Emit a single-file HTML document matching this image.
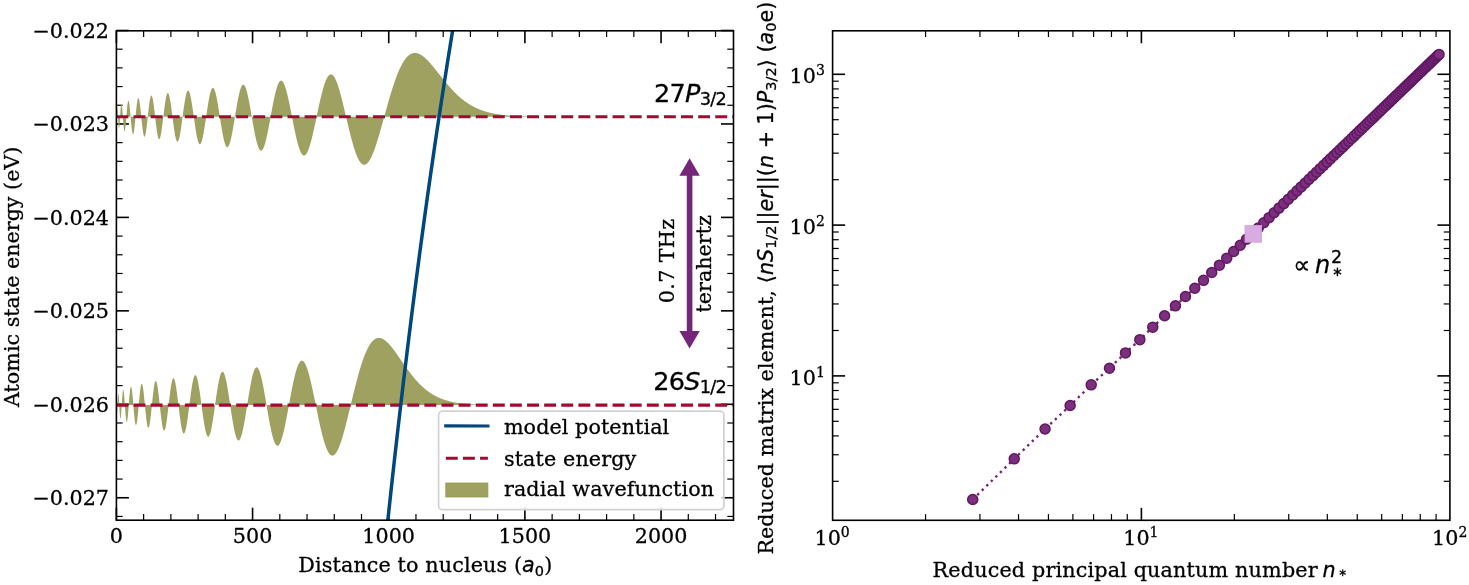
<!DOCTYPE html>
<html lang="en"><head><meta charset="utf-8"><title>Rydberg states</title>
<style>html,body{margin:0;padding:0;background:#fff;overflow:hidden}svg{display:block;filter:blur(0.45px)}text{white-space:pre;stroke:#000;stroke-width:0.3px;stroke-linejoin:round}</style></head>
<body>
<svg width="1469" height="585" viewBox="0 0 1469 585">
<rect width="1469" height="585" fill="#fff"/>
<defs><clipPath id="cl"><rect x="116.4" y="30.8" width="617.1" height="489.40000000000003"/></clipPath><clipPath id="cr"><rect x="832.6" y="30.8" width="617.3000000000001" height="489.49999999999994"/></clipPath></defs>
<g>
<line x1="116.40" y1="520.20" x2="116.40" y2="507.70" stroke="#000" stroke-width="1.6"/>
<line x1="116.40" y1="30.80" x2="116.40" y2="43.30" stroke="#000" stroke-width="1.6"/>
<line x1="143.63" y1="520.20" x2="143.63" y2="514.00" stroke="#000" stroke-width="1.2"/>
<line x1="143.63" y1="30.80" x2="143.63" y2="37.00" stroke="#000" stroke-width="1.2"/>
<line x1="170.87" y1="520.20" x2="170.87" y2="514.00" stroke="#000" stroke-width="1.2"/>
<line x1="170.87" y1="30.80" x2="170.87" y2="37.00" stroke="#000" stroke-width="1.2"/>
<line x1="198.10" y1="520.20" x2="198.10" y2="514.00" stroke="#000" stroke-width="1.2"/>
<line x1="198.10" y1="30.80" x2="198.10" y2="37.00" stroke="#000" stroke-width="1.2"/>
<line x1="225.33" y1="520.20" x2="225.33" y2="514.00" stroke="#000" stroke-width="1.2"/>
<line x1="225.33" y1="30.80" x2="225.33" y2="37.00" stroke="#000" stroke-width="1.2"/>
<line x1="252.57" y1="520.20" x2="252.57" y2="507.70" stroke="#000" stroke-width="1.6"/>
<line x1="252.57" y1="30.80" x2="252.57" y2="43.30" stroke="#000" stroke-width="1.6"/>
<line x1="279.80" y1="520.20" x2="279.80" y2="514.00" stroke="#000" stroke-width="1.2"/>
<line x1="279.80" y1="30.80" x2="279.80" y2="37.00" stroke="#000" stroke-width="1.2"/>
<line x1="307.03" y1="520.20" x2="307.03" y2="514.00" stroke="#000" stroke-width="1.2"/>
<line x1="307.03" y1="30.80" x2="307.03" y2="37.00" stroke="#000" stroke-width="1.2"/>
<line x1="334.26" y1="520.20" x2="334.26" y2="514.00" stroke="#000" stroke-width="1.2"/>
<line x1="334.26" y1="30.80" x2="334.26" y2="37.00" stroke="#000" stroke-width="1.2"/>
<line x1="361.50" y1="520.20" x2="361.50" y2="514.00" stroke="#000" stroke-width="1.2"/>
<line x1="361.50" y1="30.80" x2="361.50" y2="37.00" stroke="#000" stroke-width="1.2"/>
<line x1="388.73" y1="520.20" x2="388.73" y2="507.70" stroke="#000" stroke-width="1.6"/>
<line x1="388.73" y1="30.80" x2="388.73" y2="43.30" stroke="#000" stroke-width="1.6"/>
<line x1="415.96" y1="520.20" x2="415.96" y2="514.00" stroke="#000" stroke-width="1.2"/>
<line x1="415.96" y1="30.80" x2="415.96" y2="37.00" stroke="#000" stroke-width="1.2"/>
<line x1="443.20" y1="520.20" x2="443.20" y2="514.00" stroke="#000" stroke-width="1.2"/>
<line x1="443.20" y1="30.80" x2="443.20" y2="37.00" stroke="#000" stroke-width="1.2"/>
<line x1="470.43" y1="520.20" x2="470.43" y2="514.00" stroke="#000" stroke-width="1.2"/>
<line x1="470.43" y1="30.80" x2="470.43" y2="37.00" stroke="#000" stroke-width="1.2"/>
<line x1="497.66" y1="520.20" x2="497.66" y2="514.00" stroke="#000" stroke-width="1.2"/>
<line x1="497.66" y1="30.80" x2="497.66" y2="37.00" stroke="#000" stroke-width="1.2"/>
<line x1="524.89" y1="520.20" x2="524.89" y2="507.70" stroke="#000" stroke-width="1.6"/>
<line x1="524.89" y1="30.80" x2="524.89" y2="43.30" stroke="#000" stroke-width="1.6"/>
<line x1="552.13" y1="520.20" x2="552.13" y2="514.00" stroke="#000" stroke-width="1.2"/>
<line x1="552.13" y1="30.80" x2="552.13" y2="37.00" stroke="#000" stroke-width="1.2"/>
<line x1="579.36" y1="520.20" x2="579.36" y2="514.00" stroke="#000" stroke-width="1.2"/>
<line x1="579.36" y1="30.80" x2="579.36" y2="37.00" stroke="#000" stroke-width="1.2"/>
<line x1="606.59" y1="520.20" x2="606.59" y2="514.00" stroke="#000" stroke-width="1.2"/>
<line x1="606.59" y1="30.80" x2="606.59" y2="37.00" stroke="#000" stroke-width="1.2"/>
<line x1="633.83" y1="520.20" x2="633.83" y2="514.00" stroke="#000" stroke-width="1.2"/>
<line x1="633.83" y1="30.80" x2="633.83" y2="37.00" stroke="#000" stroke-width="1.2"/>
<line x1="661.06" y1="520.20" x2="661.06" y2="507.70" stroke="#000" stroke-width="1.6"/>
<line x1="661.06" y1="30.80" x2="661.06" y2="43.30" stroke="#000" stroke-width="1.6"/>
<line x1="688.29" y1="520.20" x2="688.29" y2="514.00" stroke="#000" stroke-width="1.2"/>
<line x1="688.29" y1="30.80" x2="688.29" y2="37.00" stroke="#000" stroke-width="1.2"/>
<line x1="715.53" y1="520.20" x2="715.53" y2="514.00" stroke="#000" stroke-width="1.2"/>
<line x1="715.53" y1="30.80" x2="715.53" y2="37.00" stroke="#000" stroke-width="1.2"/>
<line x1="116.40" y1="30.50" x2="128.90" y2="30.50" stroke="#000" stroke-width="1.6"/>
<line x1="733.50" y1="30.50" x2="721.00" y2="30.50" stroke="#000" stroke-width="1.6"/>
<line x1="116.40" y1="49.19" x2="122.60" y2="49.19" stroke="#000" stroke-width="1.2"/>
<line x1="733.50" y1="49.19" x2="727.30" y2="49.19" stroke="#000" stroke-width="1.2"/>
<line x1="116.40" y1="67.88" x2="122.60" y2="67.88" stroke="#000" stroke-width="1.2"/>
<line x1="733.50" y1="67.88" x2="727.30" y2="67.88" stroke="#000" stroke-width="1.2"/>
<line x1="116.40" y1="86.57" x2="122.60" y2="86.57" stroke="#000" stroke-width="1.2"/>
<line x1="733.50" y1="86.57" x2="727.30" y2="86.57" stroke="#000" stroke-width="1.2"/>
<line x1="116.40" y1="105.26" x2="122.60" y2="105.26" stroke="#000" stroke-width="1.2"/>
<line x1="733.50" y1="105.26" x2="727.30" y2="105.26" stroke="#000" stroke-width="1.2"/>
<line x1="116.40" y1="123.95" x2="128.90" y2="123.95" stroke="#000" stroke-width="1.6"/>
<line x1="733.50" y1="123.95" x2="721.00" y2="123.95" stroke="#000" stroke-width="1.6"/>
<line x1="116.40" y1="142.64" x2="122.60" y2="142.64" stroke="#000" stroke-width="1.2"/>
<line x1="733.50" y1="142.64" x2="727.30" y2="142.64" stroke="#000" stroke-width="1.2"/>
<line x1="116.40" y1="161.33" x2="122.60" y2="161.33" stroke="#000" stroke-width="1.2"/>
<line x1="733.50" y1="161.33" x2="727.30" y2="161.33" stroke="#000" stroke-width="1.2"/>
<line x1="116.40" y1="180.02" x2="122.60" y2="180.02" stroke="#000" stroke-width="1.2"/>
<line x1="733.50" y1="180.02" x2="727.30" y2="180.02" stroke="#000" stroke-width="1.2"/>
<line x1="116.40" y1="198.71" x2="122.60" y2="198.71" stroke="#000" stroke-width="1.2"/>
<line x1="733.50" y1="198.71" x2="727.30" y2="198.71" stroke="#000" stroke-width="1.2"/>
<line x1="116.40" y1="217.40" x2="128.90" y2="217.40" stroke="#000" stroke-width="1.6"/>
<line x1="733.50" y1="217.40" x2="721.00" y2="217.40" stroke="#000" stroke-width="1.6"/>
<line x1="116.40" y1="236.09" x2="122.60" y2="236.09" stroke="#000" stroke-width="1.2"/>
<line x1="733.50" y1="236.09" x2="727.30" y2="236.09" stroke="#000" stroke-width="1.2"/>
<line x1="116.40" y1="254.78" x2="122.60" y2="254.78" stroke="#000" stroke-width="1.2"/>
<line x1="733.50" y1="254.78" x2="727.30" y2="254.78" stroke="#000" stroke-width="1.2"/>
<line x1="116.40" y1="273.47" x2="122.60" y2="273.47" stroke="#000" stroke-width="1.2"/>
<line x1="733.50" y1="273.47" x2="727.30" y2="273.47" stroke="#000" stroke-width="1.2"/>
<line x1="116.40" y1="292.16" x2="122.60" y2="292.16" stroke="#000" stroke-width="1.2"/>
<line x1="733.50" y1="292.16" x2="727.30" y2="292.16" stroke="#000" stroke-width="1.2"/>
<line x1="116.40" y1="310.85" x2="128.90" y2="310.85" stroke="#000" stroke-width="1.6"/>
<line x1="733.50" y1="310.85" x2="721.00" y2="310.85" stroke="#000" stroke-width="1.6"/>
<line x1="116.40" y1="329.54" x2="122.60" y2="329.54" stroke="#000" stroke-width="1.2"/>
<line x1="733.50" y1="329.54" x2="727.30" y2="329.54" stroke="#000" stroke-width="1.2"/>
<line x1="116.40" y1="348.23" x2="122.60" y2="348.23" stroke="#000" stroke-width="1.2"/>
<line x1="733.50" y1="348.23" x2="727.30" y2="348.23" stroke="#000" stroke-width="1.2"/>
<line x1="116.40" y1="366.92" x2="122.60" y2="366.92" stroke="#000" stroke-width="1.2"/>
<line x1="733.50" y1="366.92" x2="727.30" y2="366.92" stroke="#000" stroke-width="1.2"/>
<line x1="116.40" y1="385.61" x2="122.60" y2="385.61" stroke="#000" stroke-width="1.2"/>
<line x1="733.50" y1="385.61" x2="727.30" y2="385.61" stroke="#000" stroke-width="1.2"/>
<line x1="116.40" y1="404.30" x2="128.90" y2="404.30" stroke="#000" stroke-width="1.6"/>
<line x1="733.50" y1="404.30" x2="721.00" y2="404.30" stroke="#000" stroke-width="1.6"/>
<line x1="116.40" y1="422.99" x2="122.60" y2="422.99" stroke="#000" stroke-width="1.2"/>
<line x1="733.50" y1="422.99" x2="727.30" y2="422.99" stroke="#000" stroke-width="1.2"/>
<line x1="116.40" y1="441.68" x2="122.60" y2="441.68" stroke="#000" stroke-width="1.2"/>
<line x1="733.50" y1="441.68" x2="727.30" y2="441.68" stroke="#000" stroke-width="1.2"/>
<line x1="116.40" y1="460.37" x2="122.60" y2="460.37" stroke="#000" stroke-width="1.2"/>
<line x1="733.50" y1="460.37" x2="727.30" y2="460.37" stroke="#000" stroke-width="1.2"/>
<line x1="116.40" y1="479.06" x2="122.60" y2="479.06" stroke="#000" stroke-width="1.2"/>
<line x1="733.50" y1="479.06" x2="727.30" y2="479.06" stroke="#000" stroke-width="1.2"/>
<line x1="116.40" y1="497.75" x2="128.90" y2="497.75" stroke="#000" stroke-width="1.6"/>
<line x1="733.50" y1="497.75" x2="721.00" y2="497.75" stroke="#000" stroke-width="1.6"/>
<line x1="116.40" y1="516.44" x2="122.60" y2="516.44" stroke="#000" stroke-width="1.2"/>
<line x1="733.50" y1="516.44" x2="727.30" y2="516.44" stroke="#000" stroke-width="1.2"/>
</g>
<g clip-path="url(#cl)">
<path d="M116.54,116.75L116.54,116.38L116.56,116.12L116.57,115.86L116.58,115.60L116.59,115.34L116.60,115.08L116.61,114.82L116.63,114.55L116.64,114.29L116.65,114.02L116.66,113.76L116.67,113.50L116.69,113.23L116.70,112.97L116.71,112.71L116.73,112.45L116.74,112.20L116.75,111.94L116.76,111.69L116.78,111.44L116.79,111.20L116.81,110.96L116.82,110.73L116.83,110.50L116.85,110.27L116.86,110.05L116.87,109.84L116.89,109.63L116.90,109.43L116.92,109.24L116.93,109.05L116.95,108.87L116.96,108.70L116.98,108.54L116.99,108.39L117.01,108.24L117.02,108.11L117.04,107.98L117.05,107.87L117.07,107.76L117.08,107.67L117.10,107.59L117.12,107.52L117.13,107.45L117.15,107.41L117.17,107.37L117.18,107.34L117.20,107.33L117.22,107.33L117.23,107.34L117.25,107.36L117.27,107.40L117.28,107.45L117.30,107.51L117.32,107.58L117.34,107.67L117.35,107.77L117.37,107.88L117.39,108.00L117.41,108.14L117.42,108.29L117.44,108.45L117.46,108.63L117.48,108.82L117.50,109.02L117.52,109.23L117.53,109.45L117.55,109.69L117.57,109.93L117.59,110.19L117.61,110.46L117.63,110.74L117.65,111.02L117.67,111.32L117.69,111.63L117.71,111.95L117.73,112.27L117.75,112.60L117.77,112.95L117.79,113.29L117.81,113.65L117.83,114.01L117.85,114.38L117.87,114.75L117.89,115.13L117.91,115.51L117.93,115.90L117.96,116.29L117.98,116.68L118.00,117.08L118.02,117.47L118.04,117.87L118.06,118.27L118.08,118.67L118.11,119.07L118.13,119.46L118.15,119.86L118.17,120.25L118.20,120.64L118.22,121.02L118.24,121.40L118.26,121.78L118.29,122.15L118.31,122.51L118.33,122.87L118.36,123.22L118.38,123.56L118.40,123.89L118.43,124.22L118.45,124.53L118.47,124.84L118.50,125.13L118.52,125.41L118.55,125.69L118.57,125.94L118.59,126.19L118.62,126.42L118.64,126.64L118.67,126.85L118.69,127.04L118.72,127.22L118.74,127.38L118.77,127.53L118.79,127.66L118.82,127.78L118.85,127.88L118.87,127.96L118.90,128.02L118.92,128.07L118.95,128.11L118.97,128.12L119.00,128.12L119.03,128.10L119.05,128.06L119.08,128.01L119.11,127.93L119.13,127.85L119.16,127.74L119.19,127.61L119.21,127.47L119.24,127.31L119.27,127.14L119.30,126.95L119.32,126.74L119.35,126.51L119.38,126.27L119.41,126.02L119.44,125.75L119.46,125.46L119.49,125.16L119.52,124.84L119.55,124.51L119.58,124.17L119.61,123.82L119.64,123.45L119.67,123.07L119.69,122.68L119.72,122.27L119.75,121.86L119.78,121.44L119.81,121.01L119.84,120.57L119.87,120.13L119.90,119.67L119.93,119.21L119.96,118.75L119.99,118.28L120.02,117.80L120.05,117.33L120.08,116.85L120.11,116.36L120.14,115.88L120.18,115.40L120.21,114.91L120.24,114.43L120.27,113.95L120.30,113.47L120.33,113.00L120.36,112.52L120.40,112.06L120.43,111.60L120.46,111.15L120.49,110.70L120.52,110.26L120.56,109.83L120.59,109.41L120.62,109.00L120.65,108.60L120.69,108.21L120.72,107.83L120.75,107.47L120.79,107.12L120.82,106.78L120.85,106.46L120.89,106.15L120.92,105.86L120.95,105.59L120.99,105.33L121.02,105.09L121.06,104.86L121.09,104.66L121.12,104.47L121.16,104.30L121.19,104.15L121.23,104.02L121.26,103.91L121.30,103.82L121.33,103.75L121.37,103.70L121.40,103.67L121.44,103.66L121.47,103.67L121.51,103.71L121.54,103.76L121.58,103.83L121.62,103.93L121.65,104.04L121.69,104.18L121.72,104.33L121.76,104.51L121.80,104.71L121.83,104.92L121.87,105.16L121.91,105.41L121.94,105.68L121.98,105.98L122.02,106.28L122.06,106.61L122.09,106.96L122.13,107.32L122.17,107.69L122.21,108.09L122.24,108.49L122.28,108.91L122.32,109.35L122.36,109.80L122.40,110.26L122.44,110.73L122.47,111.21L122.51,111.71L122.55,112.21L122.59,112.72L122.63,113.24L122.67,113.77L122.71,114.30L122.75,114.84L122.79,115.38L122.83,115.93L122.87,116.48L122.91,117.03L122.95,117.59L122.99,118.14L123.03,118.69L123.07,119.24L123.11,119.79L123.15,120.34L123.19,120.88L123.23,121.42L123.27,121.95L123.31,122.47L123.35,122.99L123.39,123.49L123.43,123.99L123.48,124.48L123.52,124.96L123.56,125.42L123.60,125.87L123.64,126.31L123.68,126.74L123.73,127.15L123.77,127.55L123.81,127.92L123.85,128.29L123.90,128.63L123.94,128.96L123.98,129.27L124.02,129.56L124.07,129.83L124.11,130.08L124.15,130.30L124.20,130.51L124.24,130.70L124.28,130.86L124.33,131.01L124.37,131.13L124.42,131.22L124.46,131.30L124.50,131.35L124.55,131.38L124.59,131.38L124.64,131.37L124.68,131.32L124.73,131.26L124.77,131.17L124.82,131.06L124.86,130.93L124.91,130.77L124.95,130.59L125.00,130.39L125.04,130.16L125.09,129.91L125.14,129.65L125.18,129.36L125.23,129.04L125.27,128.71L125.32,128.36L125.37,127.99L125.41,127.60L125.46,127.20L125.51,126.77L125.55,126.33L125.60,125.87L125.65,125.40L125.69,124.91L125.74,124.40L125.79,123.89L125.84,123.36L125.88,122.82L125.93,122.26L125.98,121.70L126.03,121.13L126.08,120.55L126.12,119.96L126.17,119.37L126.22,118.77L126.27,118.16L126.32,117.56L126.37,116.94L126.42,116.33L126.47,115.72L126.51,115.11L126.56,114.49L126.61,113.88L126.66,113.28L126.71,112.68L126.76,112.08L126.81,111.49L126.86,110.90L126.91,110.33L126.96,109.76L127.01,109.20L127.06,108.66L127.11,108.12L127.16,107.60L127.22,107.09L127.27,106.59L127.32,106.11L127.37,105.65L127.42,105.20L127.47,104.77L127.52,104.36L127.57,103.97L127.63,103.60L127.68,103.24L127.73,102.91L127.78,102.60L127.83,102.31L127.89,102.04L127.94,101.80L127.99,101.58L128.04,101.38L128.10,101.21L128.15,101.06L128.20,100.93L128.26,100.83L128.31,100.76L128.36,100.71L128.42,100.69L128.47,100.69L128.52,100.72L128.58,100.77L128.63,100.85L128.68,100.95L128.74,101.08L128.79,101.24L128.85,101.42L128.90,101.62L128.96,101.85L129.01,102.10L129.07,102.38L129.12,102.68L129.18,103.01L129.23,103.35L129.29,103.72L129.34,104.11L129.40,104.52L129.45,104.95L129.51,105.40L129.56,105.87L129.62,106.36L129.68,106.86L129.73,107.38L129.79,107.92L129.84,108.48L129.90,109.04L129.96,109.62L130.01,110.22L130.07,110.82L130.13,111.44L130.19,112.06L130.24,112.69L130.30,113.34L130.36,113.98L130.42,114.64L130.47,115.30L130.53,115.96L130.59,116.62L130.65,117.29L130.70,117.96L130.76,118.62L130.82,119.29L130.88,119.95L130.94,120.61L131.00,121.26L131.06,121.91L131.12,122.55L131.17,123.18L131.23,123.80L131.29,124.41L131.35,125.02L131.41,125.61L131.47,126.19L131.53,126.75L131.59,127.30L131.65,127.83L131.71,128.35L131.77,128.85L131.83,129.33L131.89,129.79L131.95,130.24L132.01,130.66L132.07,131.06L132.13,131.44L132.20,131.80L132.26,132.13L132.32,132.44L132.38,132.72L132.44,132.99L132.50,133.22L132.56,133.43L132.63,133.62L132.69,133.77L132.75,133.91L132.81,134.01L132.87,134.09L132.94,134.14L133.00,134.16L133.06,134.16L133.13,134.13L133.19,134.07L133.25,133.98L133.31,133.87L133.38,133.72L133.44,133.56L133.50,133.36L133.57,133.14L133.63,132.89L133.70,132.62L133.76,132.32L133.82,132.00L133.89,131.65L133.95,131.27L134.02,130.88L134.08,130.46L134.15,130.02L134.21,129.55L134.27,129.07L134.34,128.57L134.40,128.04L134.47,127.50L134.54,126.94L134.60,126.36L134.67,125.77L134.73,125.16L134.80,124.54L134.86,123.90L134.93,123.25L135.00,122.59L135.06,121.92L135.13,121.24L135.19,120.55L135.26,119.86L135.33,119.16L135.39,118.45L135.46,117.74L135.53,117.03L135.60,116.31L135.66,115.60L135.73,114.88L135.80,114.17L135.87,113.46L135.93,112.76L136.00,112.06L136.07,111.36L136.14,110.67L136.21,109.99L136.27,109.32L136.34,108.67L136.41,108.02L136.48,107.38L136.55,106.76L136.62,106.15L136.69,105.56L136.75,104.99L136.82,104.43L136.89,103.89L136.96,103.37L137.03,102.87L137.10,102.39L137.17,101.94L137.24,101.50L137.31,101.09L137.38,100.70L137.45,100.34L137.52,100.00L137.59,99.68L137.66,99.40L137.73,99.14L137.80,98.90L137.88,98.70L137.95,98.52L138.02,98.37L138.09,98.25L138.16,98.15L138.23,98.09L138.30,98.05L138.38,98.05L138.45,98.07L138.52,98.12L138.59,98.20L138.66,98.31L138.74,98.45L138.81,98.62L138.88,98.81L138.95,99.04L139.03,99.29L139.10,99.57L139.17,99.87L139.25,100.21L139.32,100.56L139.39,100.95L139.47,101.36L139.54,101.79L139.61,102.25L139.69,102.73L139.76,103.24L139.83,103.76L139.91,104.31L139.98,104.88L140.06,105.46L140.13,106.07L140.21,106.69L140.28,107.33L140.36,107.98L140.43,108.65L140.51,109.33L140.58,110.03L140.66,110.73L140.73,111.45L140.81,112.17L140.88,112.91L140.96,113.65L141.04,114.40L141.11,115.15L141.19,115.90L141.26,116.66L141.34,117.42L141.42,118.18L141.49,118.94L141.57,119.69L141.65,120.44L141.72,121.19L141.80,121.93L141.88,122.67L141.95,123.40L142.03,124.12L142.11,124.82L142.19,125.52L142.27,126.20L142.34,126.87L142.42,127.53L142.50,128.17L142.58,128.79L142.66,129.40L142.73,129.99L142.81,130.56L142.89,131.10L142.97,131.63L143.05,132.13L143.13,132.62L143.21,133.07L143.29,133.51L143.37,133.92L143.45,134.30L143.52,134.65L143.60,134.98L143.68,135.29L143.76,135.56L143.84,135.81L143.92,136.02L144.00,136.21L144.08,136.37L144.17,136.50L144.25,136.59L144.33,136.66L144.41,136.70L144.49,136.71L144.57,136.68L144.65,136.63L144.73,136.55L144.81,136.43L144.90,136.29L144.98,136.11L145.06,135.91L145.14,135.68L145.22,135.41L145.30,135.12L145.39,134.80L145.47,134.45L145.55,134.08L145.63,133.67L145.72,133.24L145.80,132.79L145.88,132.31L145.97,131.81L146.05,131.28L146.13,130.73L146.22,130.16L146.30,129.56L146.38,128.95L146.47,128.32L146.55,127.66L146.63,126.99L146.72,126.31L146.80,125.61L146.89,124.89L146.97,124.16L147.06,123.42L147.14,122.67L147.23,121.91L147.31,121.14L147.39,120.36L147.48,119.57L147.57,118.78L147.65,117.99L147.74,117.19L147.82,116.39L147.91,115.59L147.99,114.79L148.08,113.99L148.17,113.20L148.25,112.41L148.34,111.63L148.42,110.85L148.51,110.08L148.60,109.32L148.68,108.57L148.77,107.83L148.86,107.10L148.94,106.39L149.03,105.69L149.12,105.01L149.21,104.34L149.29,103.69L149.38,103.06L149.47,102.45L149.56,101.86L149.65,101.30L149.73,100.75L149.82,100.23L149.91,99.73L150.00,99.26L150.09,98.81L150.18,98.39L150.26,98.00L150.35,97.63L150.44,97.30L150.53,96.99L150.62,96.71L150.71,96.46L150.80,96.24L150.89,96.05L150.98,95.89L151.07,95.76L151.16,95.66L151.25,95.60L151.34,95.56L151.43,95.56L151.52,95.59L151.61,95.65L151.70,95.75L151.79,95.87L151.88,96.03L151.97,96.21L152.06,96.43L152.16,96.68L152.25,96.96L152.34,97.27L152.43,97.60L152.52,97.97L152.61,98.37L152.71,98.79L152.80,99.24L152.89,99.72L152.98,100.22L153.07,100.75L153.17,101.30L153.26,101.88L153.35,102.47L153.45,103.10L153.54,103.74L153.63,104.40L153.72,105.08L153.82,105.78L153.91,106.50L154.00,107.23L154.10,107.98L154.19,108.74L154.29,109.51L154.38,110.30L154.47,111.09L154.57,111.90L154.66,112.71L154.76,113.54L154.85,114.36L154.95,115.19L155.04,116.03L155.14,116.86L155.23,117.70L155.33,118.54L155.42,119.37L155.52,120.21L155.61,121.04L155.71,121.86L155.80,122.68L155.90,123.48L156.00,124.28L156.09,125.07L156.19,125.85L156.28,126.62L156.38,127.37L156.48,128.11L156.57,128.83L156.67,129.54L156.77,130.22L156.86,130.89L156.96,131.54L157.06,132.17L157.16,132.77L157.25,133.35L157.35,133.91L157.45,134.45L157.55,134.96L157.64,135.44L157.74,135.90L157.84,136.33L157.94,136.73L158.04,137.10L158.13,137.44L158.23,137.75L158.33,138.04L158.43,138.29L158.53,138.51L158.63,138.70L158.73,138.85L158.83,138.98L158.93,139.07L159.03,139.13L159.13,139.16L159.23,139.16L159.33,139.12L159.43,139.05L159.53,138.95L159.63,138.81L159.73,138.65L159.83,138.45L159.93,138.22L160.03,137.95L160.13,137.66L160.23,137.34L160.33,136.98L160.43,136.60L160.53,136.19L160.63,135.74L160.74,135.27L160.84,134.78L160.94,134.25L161.04,133.70L161.14,133.13L161.24,132.53L161.35,131.91L161.45,131.26L161.55,130.59L161.65,129.91L161.76,129.20L161.86,128.47L161.96,127.73L162.07,126.97L162.17,126.19L162.27,125.40L162.37,124.60L162.48,123.78L162.58,122.95L162.69,122.12L162.79,121.27L162.89,120.42L163.00,119.56L163.10,118.69L163.21,117.82L163.31,116.95L163.41,116.08L163.52,115.21L163.62,114.34L163.73,113.47L163.83,112.61L163.94,111.75L164.04,110.89L164.15,110.05L164.25,109.21L164.36,108.38L164.47,107.57L164.57,106.76L164.68,105.97L164.78,105.20L164.89,104.44L165.00,103.69L165.10,102.97L165.21,102.26L165.31,101.57L165.42,100.91L165.53,100.26L165.63,99.64L165.74,99.04L165.85,98.47L165.96,97.92L166.06,97.40L166.17,96.91L166.28,96.44L166.39,96.00L166.49,95.59L166.60,95.21L166.71,94.86L166.82,94.54L166.93,94.25L167.03,94.00L167.14,93.77L167.25,93.58L167.36,93.42L167.47,93.29L167.58,93.20L167.69,93.14L167.80,93.11L167.91,93.12L168.02,93.16L168.13,93.23L168.23,93.33L168.34,93.47L168.45,93.64L168.56,93.85L168.67,94.09L168.78,94.36L168.90,94.66L169.01,94.99L169.12,95.35L169.23,95.75L169.34,96.17L169.45,96.63L169.56,97.11L169.67,97.62L169.78,98.16L169.89,98.72L170.00,99.31L170.12,99.92L170.23,100.56L170.34,101.23L170.45,101.91L170.56,102.62L170.68,103.35L170.79,104.09L170.90,104.86L171.01,105.64L171.13,106.44L171.24,107.25L171.35,108.08L171.46,108.92L171.58,109.77L171.69,110.64L171.80,111.51L171.92,112.39L172.03,113.28L172.15,114.17L172.26,115.07L172.37,115.97L172.49,116.87L172.60,117.78L172.72,118.68L172.83,119.58L172.94,120.48L173.06,121.38L173.17,122.26L173.29,123.15L173.40,124.02L173.52,124.89L173.63,125.74L173.75,126.58L173.86,127.41L173.98,128.23L174.10,129.03L174.21,129.82L174.33,130.58L174.44,131.33L174.56,132.06L174.68,132.77L174.79,133.46L174.91,134.13L175.02,134.77L175.14,135.39L175.26,135.98L175.38,136.55L175.49,137.09L175.61,137.61L175.73,138.09L175.84,138.55L175.96,138.98L176.08,139.37L176.20,139.74L176.31,140.08L176.43,140.38L176.55,140.65L176.67,140.89L176.79,141.10L176.91,141.27L177.02,141.41L177.14,141.52L177.26,141.59L177.38,141.63L177.50,141.64L177.62,141.61L177.74,141.55L177.86,141.45L177.98,141.32L178.10,141.16L178.22,140.96L178.34,140.73L178.46,140.47L178.58,140.17L178.70,139.84L178.82,139.48L178.94,139.09L179.06,138.67L179.18,138.22L179.30,137.74L179.42,137.23L179.54,136.69L179.66,136.13L179.78,135.54L179.90,134.92L180.02,134.28L180.15,133.61L180.27,132.92L180.39,132.21L180.51,131.47L180.63,130.72L180.76,129.94L180.88,129.15L181.00,128.34L181.12,127.51L181.24,126.67L181.37,125.81L181.49,124.94L181.61,124.06L181.74,123.17L181.86,122.27L181.98,121.36L182.11,120.44L182.23,119.52L182.35,118.59L182.48,117.66L182.60,116.73L182.72,115.80L182.85,114.87L182.97,113.93L183.10,113.01L183.22,112.08L183.35,111.16L183.47,110.25L183.60,109.35L183.72,108.45L183.85,107.57L183.97,106.69L184.10,105.83L184.22,104.99L184.35,104.15L184.47,103.34L184.60,102.54L184.72,101.76L184.85,100.99L184.97,100.25L185.10,99.53L185.23,98.83L185.35,98.16L185.48,97.50L185.61,96.88L185.73,96.28L185.86,95.70L185.99,95.16L186.11,94.64L186.24,94.15L186.37,93.68L186.50,93.25L186.62,92.85L186.75,92.48L186.88,92.14L187.01,91.84L187.13,91.57L187.26,91.32L187.39,91.12L187.52,90.94L187.65,90.80L187.78,90.70L187.91,90.62L188.03,90.59L188.16,90.58L188.29,90.61L188.42,90.68L188.55,90.78L188.68,90.91L188.81,91.07L188.94,91.27L189.07,91.51L189.20,91.77L189.33,92.07L189.46,92.41L189.59,92.77L189.72,93.17L189.85,93.59L189.98,94.05L190.11,94.54L190.24,95.05L190.37,95.60L190.50,96.17L190.63,96.77L190.76,97.39L190.90,98.05L191.03,98.72L191.16,99.42L191.29,100.15L191.42,100.89L191.55,101.66L191.69,102.45L191.82,103.25L191.95,104.08L192.08,104.92L192.22,105.77L192.35,106.65L192.48,107.53L192.61,108.43L192.75,109.34L192.88,110.26L193.01,111.19L193.15,112.13L193.28,113.07L193.41,114.02L193.55,114.97L193.68,115.93L193.81,116.89L193.95,117.85L194.08,118.81L194.22,119.76L194.35,120.72L194.49,121.67L194.62,122.61L194.75,123.55L194.89,124.48L195.02,125.40L195.16,126.31L195.29,127.21L195.43,128.10L195.56,128.97L195.70,129.83L195.84,130.67L195.97,131.50L196.11,132.30L196.24,133.09L196.38,133.86L196.52,134.61L196.65,135.33L196.79,136.03L196.92,136.71L197.06,137.37L197.20,138.00L197.33,138.60L197.47,139.17L197.61,139.72L197.75,140.24L197.88,140.73L198.02,141.19L198.16,141.62L198.30,142.02L198.43,142.39L198.57,142.72L198.71,143.02L198.85,143.29L198.99,143.53L199.12,143.74L199.26,143.91L199.40,144.04L199.54,144.15L199.68,144.21L199.82,144.25L199.96,144.25L200.10,144.21L200.23,144.15L200.37,144.04L200.51,143.91L200.65,143.74L200.79,143.53L200.93,143.29L201.07,143.02L201.21,142.72L201.35,142.38L201.49,142.01L201.63,141.61L201.77,141.18L201.91,140.72L202.06,140.23L202.20,139.71L202.34,139.16L202.48,138.58L202.62,137.97L202.76,137.34L202.90,136.68L203.04,136.00L203.19,135.29L203.33,134.56L203.47,133.81L203.61,133.03L203.75,132.24L203.90,131.42L204.04,130.59L204.18,129.73L204.32,128.87L204.47,127.98L204.61,127.08L204.75,126.17L204.90,125.25L205.04,124.31L205.18,123.37L205.32,122.41L205.47,121.45L205.61,120.49L205.76,119.51L205.90,118.53L206.04,117.55L206.19,116.57L206.33,115.59L206.48,114.61L206.62,113.63L206.77,112.65L206.91,111.68L207.05,110.71L207.20,109.75L207.34,108.79L207.49,107.85L207.64,106.91L207.78,105.99L207.93,105.08L208.07,104.18L208.22,103.30L208.36,102.43L208.51,101.58L208.66,100.74L208.80,99.93L208.95,99.13L209.09,98.36L209.24,97.60L209.39,96.87L209.53,96.17L209.68,95.48L209.83,94.82L209.97,94.19L210.12,93.58L210.27,93.00L210.42,92.45L210.56,91.93L210.71,91.43L210.86,90.97L211.01,90.54L211.16,90.13L211.30,89.76L211.45,89.42L211.60,89.11L211.75,88.84L211.90,88.60L212.05,88.39L212.20,88.21L212.34,88.07L212.49,87.96L212.64,87.89L212.79,87.85L212.94,87.84L213.09,87.87L213.24,87.93L213.39,88.03L213.54,88.16L213.69,88.32L213.84,88.52L213.99,88.75L214.14,89.01L214.29,89.31L214.44,89.64L214.59,90.00L214.74,90.39L214.89,90.82L215.04,91.27L215.20,91.76L215.35,92.27L215.50,92.81L215.65,93.39L215.80,93.99L215.95,94.61L216.11,95.26L216.26,95.94L216.41,96.64L216.56,97.37L216.71,98.12L216.87,98.89L217.02,99.69L217.17,100.50L217.32,101.33L217.48,102.18L217.63,103.05L217.78,103.94L217.94,104.84L218.09,105.75L218.24,106.68L218.40,107.62L218.55,108.58L218.70,109.54L218.86,110.51L219.01,111.49L219.17,112.48L219.32,113.47L219.47,114.46L219.63,115.46L219.78,116.46L219.94,117.47L220.09,118.47L220.25,119.47L220.40,120.47L220.56,121.47L220.71,122.46L220.87,123.44L221.02,124.42L221.18,125.39L221.34,126.35L221.49,127.30L221.65,128.24L221.80,129.17L221.96,130.08L222.12,130.98L222.27,131.87L222.43,132.74L222.59,133.59L222.74,134.42L222.90,135.23L223.06,136.02L223.21,136.79L223.37,137.54L223.53,138.27L223.69,138.97L223.84,139.65L224.00,140.30L224.16,140.93L224.32,141.53L224.47,142.10L224.63,142.65L224.79,143.16L224.95,143.65L225.11,144.11L225.27,144.53L225.43,144.93L225.58,145.30L225.74,145.63L225.90,145.93L226.06,146.20L226.22,146.44L226.38,146.64L226.54,146.81L226.70,146.95L226.86,147.06L227.02,147.13L227.18,147.16L227.34,147.17L227.50,147.14L227.66,147.08L227.82,146.98L227.98,146.85L228.14,146.68L228.30,146.49L228.46,146.26L228.62,146.00L228.79,145.70L228.95,145.38L229.11,145.02L229.27,144.63L229.43,144.21L229.59,143.76L229.75,143.28L229.92,142.77L230.08,142.23L230.24,141.66L230.40,141.07L230.57,140.45L230.73,139.80L230.89,139.13L231.05,138.43L231.22,137.71L231.38,136.96L231.54,136.20L231.71,135.41L231.87,134.60L232.03,133.77L232.20,132.92L232.36,132.05L232.52,131.17L232.69,130.27L232.85,129.35L233.02,128.42L233.18,127.48L233.34,126.53L233.51,125.56L233.67,124.58L233.84,123.60L234.00,122.61L234.17,121.61L234.33,120.60L234.50,119.59L234.66,118.57L234.83,117.56L234.99,116.54L235.16,115.52L235.33,114.50L235.49,113.48L235.66,112.47L235.82,111.46L235.99,110.45L236.16,109.45L236.32,108.46L236.49,107.48L236.66,106.50L236.82,105.54L236.99,104.58L237.16,103.64L237.32,102.71L237.49,101.80L237.66,100.90L237.83,100.01L237.99,99.15L238.16,98.30L238.33,97.47L238.50,96.66L238.67,95.87L238.83,95.10L239.00,94.36L239.17,93.63L239.34,92.93L239.51,92.26L239.68,91.61L239.84,90.98L240.01,90.39L240.18,89.81L240.35,89.27L240.52,88.76L240.69,88.27L240.86,87.81L241.03,87.38L241.20,86.99L241.37,86.62L241.54,86.28L241.71,85.98L241.88,85.70L242.05,85.46L242.22,85.25L242.39,85.07L242.56,84.93L242.73,84.82L242.90,84.74L243.08,84.69L243.25,84.67L243.42,84.69L243.59,84.74L243.76,84.83L243.93,84.94L244.10,85.09L244.28,85.27L244.45,85.49L244.62,85.73L244.79,86.01L244.96,86.32L245.14,86.66L245.31,87.03L245.48,87.43L245.65,87.86L245.83,88.32L246.00,88.80L246.17,89.32L246.35,89.87L246.52,90.44L246.69,91.04L246.87,91.66L247.04,92.32L247.22,92.99L247.39,93.69L247.56,94.42L247.74,95.16L247.91,95.93L248.09,96.72L248.26,97.53L248.44,98.36L248.61,99.21L248.78,100.08L248.96,100.96L249.13,101.86L249.31,102.78L249.49,103.71L249.66,104.65L249.84,105.61L250.01,106.58L250.19,107.56L250.36,108.55L250.54,109.54L250.72,110.55L250.89,111.56L251.07,112.58L251.24,113.60L251.42,114.63L251.60,115.65L251.78,116.68L251.95,117.72L252.13,118.75L252.31,119.78L252.48,120.80L252.66,121.83L252.84,122.85L253.02,123.86L253.19,124.87L253.37,125.87L253.55,126.86L253.73,127.85L253.91,128.82L254.08,129.78L254.26,130.74L254.44,131.67L254.62,132.60L254.80,133.51L254.98,134.40L255.16,135.28L255.34,136.14L255.51,136.98L255.69,137.80L255.87,138.61L256.05,139.39L256.23,140.15L256.41,140.89L256.59,141.61L256.77,142.30L256.95,142.97L257.13,143.62L257.31,144.24L257.49,144.84L257.67,145.41L257.86,145.95L258.04,146.46L258.22,146.95L258.40,147.41L258.58,147.84L258.76,148.24L258.94,148.61L259.12,148.95L259.31,149.27L259.49,149.55L259.67,149.80L259.85,150.02L260.03,150.21L260.22,150.37L260.40,150.49L260.58,150.59L260.76,150.65L260.95,150.69L261.13,150.69L261.31,150.66L261.49,150.59L261.68,150.50L261.86,150.37L262.04,150.22L262.23,150.03L262.41,149.81L262.60,149.57L262.78,149.29L262.96,148.98L263.15,148.64L263.33,148.27L263.52,147.87L263.70,147.45L263.88,146.99L264.07,146.51L264.25,146.00L264.44,145.46L264.62,144.90L264.81,144.31L264.99,143.69L265.18,143.05L265.36,142.39L265.55,141.70L265.74,140.99L265.92,140.25L266.11,139.50L266.29,138.72L266.48,137.93L266.67,137.11L266.85,136.28L267.04,135.42L267.23,134.55L267.41,133.66L267.60,132.76L267.79,131.84L267.97,130.91L268.16,129.97L268.35,129.01L268.54,128.04L268.72,127.06L268.91,126.07L269.10,125.08L269.29,124.07L269.47,123.06L269.66,122.04L269.85,121.01L270.04,119.98L270.23,118.95L270.42,117.92L270.60,116.88L270.79,115.84L270.98,114.81L271.17,113.77L271.36,112.74L271.55,111.70L271.74,110.68L271.93,109.65L272.12,108.64L272.31,107.63L272.50,106.62L272.69,105.63L272.88,104.64L273.07,103.66L273.26,102.70L273.45,101.74L273.64,100.80L273.83,99.87L274.02,98.96L274.21,98.06L274.40,97.18L274.59,96.31L274.78,95.46L274.98,94.62L275.17,93.81L275.36,93.01L275.55,92.24L275.74,91.48L275.93,90.75L276.13,90.04L276.32,89.35L276.51,88.68L276.70,88.04L276.90,87.42L277.09,86.82L277.28,86.25L277.47,85.71L277.67,85.19L277.86,84.70L278.05,84.23L278.25,83.79L278.44,83.38L278.63,83.00L278.83,82.64L279.02,82.31L279.21,82.01L279.41,81.74L279.60,81.50L279.80,81.29L279.99,81.11L280.19,80.96L280.38,80.83L280.58,80.74L280.77,80.68L280.96,80.64L281.16,80.64L281.36,80.66L281.55,80.72L281.75,80.80L281.94,80.92L282.14,81.06L282.33,81.24L282.53,81.44L282.72,81.67L282.92,81.93L283.12,82.22L283.31,82.54L283.51,82.88L283.71,83.26L283.90,83.66L284.10,84.08L284.30,84.54L284.49,85.02L284.69,85.52L284.89,86.06L285.08,86.61L285.28,87.19L285.48,87.80L285.68,88.43L285.88,89.08L286.07,89.76L286.27,90.45L286.47,91.17L286.67,91.91L286.87,92.67L287.06,93.45L287.26,94.24L287.46,95.06L287.66,95.89L287.86,96.74L288.06,97.61L288.26,98.49L288.46,99.39L288.66,100.30L288.86,101.23L289.06,102.16L289.26,103.11L289.45,104.07L289.65,105.05L289.86,106.03L290.06,107.02L290.26,108.01L290.46,109.02L290.66,110.03L290.86,111.05L291.06,112.07L291.26,113.10L291.46,114.13L291.66,115.16L291.86,116.20L292.06,117.23L292.27,118.27L292.47,119.30L292.67,120.34L292.87,121.37L293.07,122.40L293.27,123.43L293.48,124.45L293.68,125.46L293.88,126.47L294.08,127.47L294.29,128.47L294.49,129.46L294.69,130.43L294.89,131.40L295.10,132.36L295.30,133.31L295.50,134.24L295.71,135.16L295.91,136.07L296.12,136.96L296.32,137.84L296.52,138.71L296.73,139.56L296.93,140.39L297.14,141.21L297.34,142.00L297.54,142.78L297.75,143.54L297.95,144.29L298.16,145.01L298.36,145.71L298.57,146.39L298.77,147.05L298.98,147.68L299.18,148.30L299.39,148.89L299.60,149.46L299.80,150.01L300.01,150.53L300.21,151.02L300.42,151.50L300.62,151.94L300.83,152.37L301.04,152.76L301.24,153.14L301.45,153.48L301.66,153.80L301.86,154.09L302.07,154.36L302.28,154.60L302.49,154.81L302.69,155.00L302.90,155.15L303.11,155.29L303.32,155.39L303.52,155.47L303.73,155.52L303.94,155.54L304.15,155.53L304.36,155.50L304.56,155.44L304.77,155.35L304.98,155.24L305.19,155.09L305.40,154.93L305.61,154.73L305.82,154.51L306.03,154.26L306.24,153.99L306.45,153.69L306.65,153.36L306.86,153.01L307.07,152.63L307.28,152.23L307.49,151.80L307.70,151.35L307.91,150.88L308.12,150.38L308.34,149.86L308.55,149.31L308.76,148.75L308.97,148.16L309.18,147.55L309.39,146.91L309.60,146.26L309.81,145.59L310.02,144.89L310.23,144.18L310.45,143.45L310.66,142.70L310.87,141.93L311.08,141.15L311.29,140.35L311.51,139.53L311.72,138.70L311.93,137.85L312.14,136.99L312.36,136.11L312.57,135.22L312.78,134.32L312.99,133.40L313.21,132.48L313.42,131.54L313.63,130.59L313.85,129.64L314.06,128.67L314.27,127.70L314.49,126.72L314.70,125.73L314.92,124.73L315.13,123.73L315.35,122.73L315.56,121.72L315.77,120.70L315.99,119.68L316.20,118.67L316.42,117.64L316.63,116.62L316.85,115.60L317.06,114.58L317.28,113.55L317.49,112.53L317.71,111.52L317.93,110.50L318.14,109.49L318.36,108.48L318.57,107.48L318.79,106.48L319.01,105.49L319.22,104.50L319.44,103.52L319.65,102.55L319.87,101.59L320.09,100.64L320.31,99.69L320.52,98.76L320.74,97.84L320.96,96.93L321.17,96.03L321.39,95.14L321.61,94.26L321.83,93.40L322.04,92.55L322.26,91.72L322.48,90.90L322.70,90.10L322.92,89.31L323.14,88.54L323.35,87.78L323.57,87.05L323.79,86.33L324.01,85.62L324.23,84.94L324.45,84.27L324.67,83.63L324.89,83.00L325.11,82.39L325.33,81.81L325.55,81.24L325.77,80.70L325.99,80.17L326.21,79.67L326.43,79.19L326.65,78.73L326.87,78.29L327.09,77.88L327.31,77.48L327.53,77.11L327.75,76.77L327.97,76.44L328.19,76.14L328.41,75.86L328.63,75.61L328.85,75.38L329.08,75.17L329.30,74.99L329.52,74.83L329.74,74.69L329.96,74.58L330.19,74.50L330.41,74.43L330.63,74.39L330.85,74.38L331.08,74.39L331.30,74.42L331.52,74.48L331.74,74.56L331.97,74.66L332.19,74.79L332.41,74.94L332.64,75.11L332.86,75.31L333.08,75.53L333.31,75.77L333.53,76.04L333.75,76.33L333.98,76.64L334.20,76.97L334.43,77.33L334.65,77.70L334.88,78.10L335.10,78.52L335.33,78.96L335.55,79.42L335.78,79.91L336.00,80.41L336.23,80.93L336.45,81.47L336.68,82.03L336.90,82.61L337.13,83.21L337.35,83.82L337.58,84.46L337.81,85.11L338.03,85.78L338.26,86.46L338.48,87.16L338.71,87.88L338.94,88.61L339.16,89.36L339.39,90.12L339.62,90.90L339.84,91.69L340.07,92.49L340.30,93.31L340.53,94.14L340.75,94.98L340.98,95.83L341.21,96.70L341.44,97.57L341.67,98.46L341.89,99.35L342.12,100.26L342.35,101.17L342.58,102.09L342.81,103.02L343.04,103.96L343.26,104.90L343.49,105.85L343.72,106.80L343.95,107.77L344.18,108.73L344.41,109.70L344.64,110.68L344.87,111.65L345.10,112.64L345.33,113.62L345.56,114.60L345.79,115.59L346.02,116.58L346.25,117.57L346.48,118.56L346.71,119.54L346.94,120.53L347.17,121.52L347.40,122.50L347.63,123.48L347.86,124.46L348.10,125.44L348.33,126.41L348.56,127.38L348.79,128.34L349.02,129.30L349.25,130.26L349.48,131.20L349.72,132.14L349.95,133.08L350.18,134.01L350.41,134.93L350.65,135.84L350.88,136.74L351.11,137.64L351.34,138.52L351.58,139.40L351.81,140.27L352.04,141.12L352.28,141.97L352.51,142.80L352.74,143.62L352.98,144.43L353.21,145.23L353.44,146.02L353.68,146.79L353.91,147.56L354.15,148.30L354.38,149.04L354.62,149.76L354.85,150.46L355.08,151.16L355.32,151.83L355.55,152.49L355.79,153.14L356.02,153.77L356.26,154.39L356.50,154.99L356.73,155.57L356.97,156.14L357.20,156.69L357.44,157.22L357.67,157.74L357.91,158.24L358.15,158.72L358.38,159.18L358.62,159.63L358.86,160.06L359.09,160.47L359.33,160.86L359.57,161.24L359.80,161.59L360.04,161.93L360.28,162.25L360.51,162.55L360.75,162.83L360.99,163.10L361.23,163.34L361.46,163.57L361.70,163.78L361.94,163.97L362.18,164.14L362.42,164.29L362.65,164.42L362.89,164.53L363.13,164.62L363.37,164.70L363.61,164.76L363.85,164.79L364.09,164.81L364.33,164.81L364.57,164.79L364.81,164.75L365.04,164.70L365.28,164.62L365.52,164.53L365.76,164.42L366.00,164.28L366.24,164.14L366.48,163.97L366.72,163.79L366.96,163.58L367.21,163.36L367.45,163.13L367.69,162.87L367.93,162.60L368.17,162.31L368.41,162.00L368.65,161.68L368.89,161.34L369.13,160.98L369.38,160.61L369.62,160.22L369.86,159.81L370.10,159.39L370.34,158.96L370.58,158.51L370.83,158.04L371.07,157.56L371.31,157.06L371.55,156.55L371.80,156.03L372.04,155.49L372.28,154.93L372.53,154.37L372.77,153.79L373.01,153.19L373.26,152.59L373.50,151.97L373.74,151.34L373.99,150.70L374.23,150.04L374.47,149.38L374.72,148.70L374.96,148.01L375.21,147.31L375.45,146.60L375.70,145.88L375.94,145.15L376.19,144.41L376.43,143.66L376.68,142.90L376.92,142.14L377.17,141.36L377.41,140.58L377.66,139.78L377.90,138.98L378.15,138.18L378.39,137.36L378.64,136.54L378.89,135.71L379.13,134.88L379.38,134.04L379.63,133.19L379.87,132.34L380.12,131.48L380.37,130.62L380.61,129.76L380.86,128.88L381.11,128.01L381.35,127.13L381.60,126.25L381.85,125.36L382.10,124.47L382.34,123.58L382.59,122.69L382.84,121.79L383.09,120.90L383.34,120.00L383.58,119.10L383.83,118.19L384.08,117.29L384.33,116.39L384.58,115.48L384.83,114.58L385.08,113.68L385.32,112.77L385.57,111.87L385.82,110.97L386.07,110.07L386.32,109.17L386.57,108.28L386.82,107.38L387.07,106.49L387.32,105.60L387.57,104.71L387.82,103.82L388.07,102.94L388.32,102.06L388.57,101.19L388.82,100.32L389.07,99.45L389.33,98.58L389.58,97.72L389.83,96.87L390.08,96.02L390.33,95.17L390.58,94.33L390.83,93.50L391.08,92.67L391.34,91.85L391.59,91.03L391.84,90.22L392.09,89.41L392.34,88.61L392.60,87.82L392.85,87.03L393.10,86.25L393.36,85.48L393.61,84.71L393.86,83.95L394.11,83.20L394.37,82.46L394.62,81.72L394.87,81.00L395.13,80.28L395.38,79.56L395.64,78.86L395.89,78.17L396.14,77.48L396.40,76.80L396.65,76.13L396.91,75.47L397.16,74.81L397.41,74.17L397.67,73.54L397.92,72.91L398.18,72.29L398.43,71.69L398.69,71.09L398.94,70.50L399.20,69.92L399.46,69.35L399.71,68.79L399.97,68.24L400.22,67.69L400.48,67.16L400.73,66.64L400.99,66.13L401.25,65.63L401.50,65.13L401.76,64.65L402.02,64.18L402.27,63.72L402.53,63.26L402.79,62.82L403.04,62.39L403.30,61.96L403.56,61.55L403.82,61.15L404.07,60.75L404.33,60.37L404.59,60.00L404.85,59.64L405.11,59.28L405.36,58.94L405.62,58.61L405.88,58.28L406.14,57.97L406.40,57.67L406.66,57.37L406.92,57.09L407.17,56.82L407.43,56.55L407.69,56.30L407.95,56.06L408.21,55.82L408.47,55.60L408.73,55.38L408.99,55.18L409.25,54.98L409.51,54.79L409.77,54.62L410.03,54.45L410.29,54.29L410.55,54.14L410.81,54.00L411.07,53.87L411.33,53.75L411.59,53.64L411.86,53.53L412.12,53.44L412.38,53.35L412.64,53.28L412.90,53.21L413.16,53.15L413.42,53.10L413.69,53.05L413.95,53.02L414.21,52.99L414.47,52.98L414.73,52.97L415.00,52.96L415.26,52.97L415.52,52.99L415.79,53.01L416.05,53.04L416.31,53.07L416.57,53.12L416.84,53.17L417.10,53.23L417.36,53.30L417.63,53.37L417.89,53.45L418.16,53.54L418.42,53.64L418.68,53.74L418.95,53.85L419.21,53.96L419.48,54.08L419.74,54.21L420.01,54.35L420.27,54.49L420.53,54.63L420.80,54.79L421.06,54.95L421.33,55.11L421.60,55.28L421.86,55.46L422.13,55.64L422.39,55.82L422.66,56.02L422.92,56.21L423.19,56.42L423.46,56.62L423.72,56.84L423.99,57.05L424.25,57.28L424.52,57.50L424.79,57.73L425.05,57.97L425.32,58.21L425.59,58.45L425.86,58.70L426.12,58.96L426.39,59.21L426.66,59.47L426.93,59.74L427.19,60.01L427.46,60.28L427.73,60.55L428.00,60.83L428.27,61.11L428.53,61.40L428.80,61.69L429.07,61.98L429.34,62.27L429.61,62.57L429.88,62.87L430.15,63.17L430.41,63.47L430.68,63.78L430.95,64.09L431.22,64.40L431.49,64.72L431.76,65.03L432.03,65.35L432.30,65.67L432.57,66.00L432.84,66.32L433.11,66.65L433.38,66.97L433.65,67.30L433.92,67.63L434.19,67.97L434.47,68.30L434.74,68.63L435.01,68.97L435.28,69.31L435.55,69.64L435.82,69.98L436.09,70.32L436.36,70.66L436.64,71.01L436.91,71.35L437.18,71.69L437.45,72.03L437.72,72.38L438.00,72.72L438.27,73.07L438.54,73.41L438.81,73.76L439.09,74.10L439.36,74.45L439.63,74.79L439.91,75.14L440.18,75.48L440.45,75.83L440.73,76.17L441.00,76.52L441.27,76.86L441.55,77.21L441.82,77.55L442.10,77.89L442.37,78.24L442.64,78.58L442.92,78.92L443.19,79.26L443.47,79.60L443.74,79.94L444.02,80.28L444.29,80.62L444.57,80.95L444.84,81.29L445.12,81.62L445.39,81.96L445.67,82.29L445.94,82.62L446.22,82.95L446.50,83.28L446.77,83.61L447.05,83.94L447.32,84.26L447.60,84.59L447.88,84.91L448.15,85.23L448.43,85.55L448.71,85.87L448.98,86.19L449.26,86.51L449.54,86.82L449.82,87.13L450.09,87.45L450.37,87.76L450.65,88.06L450.93,88.37L451.20,88.68L451.48,88.98L451.76,89.28L452.04,89.58L452.32,89.88L452.60,90.18L452.87,90.47L453.15,90.76L453.43,91.05L453.71,91.34L453.99,91.63L454.27,91.92L454.55,92.20L454.83,92.48L455.11,92.76L455.39,93.04L455.67,93.31L455.95,93.59L456.23,93.86L456.51,94.13L456.79,94.40L457.07,94.66L457.35,94.93L457.63,95.19L457.91,95.45L458.19,95.71L458.47,95.96L458.75,96.22L459.03,96.47L459.31,96.72L459.59,96.97L459.87,97.21L460.16,97.46L460.44,97.70L460.72,97.94L461.00,98.18L461.28,98.41L461.57,98.64L461.85,98.88L462.13,99.11L462.41,99.33L462.70,99.56L462.98,99.78L463.26,100.00L463.54,100.22L463.83,100.44L464.11,100.65L464.39,100.87L464.68,101.08L464.96,101.29L465.24,101.49L465.53,101.70L465.81,101.90L466.10,102.10L466.38,102.30L466.66,102.50L466.95,102.69L467.23,102.89L467.52,103.08L467.80,103.27L468.09,103.45L468.37,103.64L468.66,103.82L468.94,104.00L469.23,104.18L469.51,104.36L469.80,104.53L470.08,104.71L470.37,104.88L470.65,105.05L470.94,105.22L471.23,105.38L471.51,105.55L471.80,105.71L472.09,105.87L472.37,106.03L472.66,106.19L472.95,106.34L473.23,106.49L473.52,106.64L473.81,106.79L474.09,106.94L474.38,107.09L474.67,107.23L474.96,107.38L475.24,107.52L475.53,107.66L475.82,107.79L476.11,107.93L476.40,108.06L476.68,108.20L476.97,108.33L477.26,108.46L477.55,108.58L477.84,108.71L478.13,108.83L478.42,108.96L478.70,109.08L478.99,109.20L479.28,109.32L479.57,109.43L479.86,109.55L480.15,109.66L480.44,109.77L480.73,109.88L481.02,109.99L481.31,110.10L481.60,110.21L481.89,110.31L482.18,110.42L482.47,110.52L482.76,110.62L483.05,110.72L483.34,110.82L483.64,110.91L483.93,111.01L484.22,111.10L484.51,111.20L484.80,111.29L485.09,111.38L485.38,111.47L485.68,111.56L485.97,111.64L486.26,111.73L486.55,111.81L486.84,111.89L487.14,111.98L487.43,112.06L487.72,112.14L488.01,112.21L488.31,112.29L488.60,112.37L488.89,112.44L489.19,112.51L489.48,112.59L489.77,112.66L490.07,112.73L490.36,112.80L490.65,112.87L490.95,112.93L491.24,113.00L491.54,113.07L491.83,113.13L492.12,113.19L492.42,113.26L492.71,113.32L493.01,113.38L493.30,113.44L493.60,113.50L493.89,113.55L494.19,113.61L494.48,113.67L494.78,113.72L495.07,113.78L495.37,113.83L495.67,113.88L495.96,113.93L496.26,113.99L496.55,114.04L496.85,114.08L497.15,114.13L497.44,114.18L497.74,114.23L498.04,114.27L498.33,114.32L498.63,114.36L498.93,114.41L499.22,114.45L499.52,114.49L499.82,114.54L500.12,114.58L500.41,114.62L500.71,114.66L501.01,114.70L501.31,114.73L501.60,114.77L501.90,114.81L502.20,114.85L502.50,114.88L502.80,114.92L503.10,114.95L503.39,114.99L503.69,115.02L503.99,115.05L504.29,115.09L504.59,115.12L504.89,115.15L505.19,115.18L505.49,115.21L505.79,115.24L506.09,115.27L506.39,115.30L506.69,115.33L506.99,115.35L507.29,115.38L507.59,115.41L507.89,115.43L508.19,115.46L508.49,115.49L508.79,115.51L509.09,115.53L509.39,115.56L509.69,115.58L510.00,115.61L510.30,115.63L510.60,115.65L510.90,115.67L511.20,115.69L511.50,115.71L511.81,115.74L512.11,115.76L512.41,115.78L512.71,115.80L513.01,115.82L513.32,115.83L513.62,115.85L513.92,115.87L514.23,115.89L514.53,115.91L514.83,115.92L515.13,115.94L515.44,115.96L515.74,115.97L516.04,115.99L516.35,116.00L516.65,116.02L516.96,116.04L517.26,116.05L517.56,116.06L517.87,116.08L518.17,116.09L518.48,116.11L518.78,116.12L519.09,116.13L519.39,116.15L519.70,116.16L520.00,116.17L520.31,116.18L520.61,116.20L520.92,116.21L521.22,116.22L521.53,116.23L521.83,116.24L522.14,116.25L522.45,116.26L522.75,116.27L523.06,116.28L523.36,116.29L523.67,116.30L523.98,116.31L524.28,116.32L524.59,116.33L524.90,116.34L525.20,116.35L525.51,116.36L525.82,116.37L526.13,116.37L526.43,116.38L526.74,116.39L527.05,116.40L527.36,116.41L527.67,116.41L527.97,116.42L528.28,116.43L528.59,116.44L528.90,116.44L529.21,116.45L529.52,116.46L529.82,116.46L530.13,116.47L530.44,116.48L530.75,116.48L531.06,116.49L531.37,116.49L531.68,116.50L531.99,116.50L532.30,116.51L532.61,116.52L532.92,116.52L533.23,116.53L533.54,116.53L533.85,116.54L534.16,116.54L534.47,116.55L534.78,116.55L534.78,116.75Z" fill="#9fa161"/>
<path d="M116.54,405.10L116.54,409.47L116.56,409.75L116.57,410.02L116.58,410.28L116.59,410.54L116.60,410.80L116.61,411.04L116.62,411.28L116.63,411.52L116.64,411.74L116.66,411.96L116.67,412.17L116.68,412.37L116.69,412.57L116.70,412.75L116.71,412.92L116.73,413.08L116.74,413.23L116.75,413.37L116.76,413.50L116.78,413.62L116.79,413.73L116.80,413.82L116.81,413.90L116.83,413.97L116.84,414.03L116.85,414.07L116.87,414.10L116.88,414.11L116.89,414.12L116.91,414.11L116.92,414.08L116.94,414.04L116.95,413.99L116.96,413.93L116.98,413.85L116.99,413.75L117.01,413.65L117.02,413.53L117.03,413.39L117.05,413.25L117.06,413.09L117.08,412.91L117.09,412.72L117.11,412.53L117.12,412.31L117.14,412.09L117.15,411.85L117.17,411.60L117.19,411.35L117.20,411.07L117.22,410.79L117.23,410.50L117.25,410.20L117.26,409.89L117.28,409.57L117.30,409.24L117.31,408.90L117.33,408.56L117.35,408.20L117.36,407.84L117.38,407.48L117.40,407.11L117.41,406.73L117.43,406.35L117.45,405.96L117.46,405.57L117.48,405.18L117.50,404.79L117.52,404.39L117.53,403.99L117.55,403.59L117.57,403.19L117.59,402.80L117.61,402.40L117.62,402.00L117.64,401.61L117.66,401.22L117.68,400.84L117.70,400.45L117.72,400.08L117.74,399.71L117.76,399.34L117.77,398.98L117.79,398.63L117.81,398.29L117.83,397.95L117.85,397.63L117.87,397.31L117.89,397.00L117.91,396.71L117.93,396.42L117.95,396.15L117.97,395.89L117.99,395.64L118.01,395.40L118.03,395.18L118.05,394.97L118.07,394.77L118.09,394.59L118.11,394.43L118.13,394.28L118.15,394.14L118.18,394.02L118.20,393.92L118.22,393.83L118.24,393.76L118.26,393.71L118.28,393.67L118.30,393.65L118.33,393.64L118.35,393.66L118.37,393.69L118.39,393.74L118.41,393.80L118.44,393.88L118.46,393.98L118.48,394.10L118.50,394.23L118.53,394.38L118.55,394.55L118.57,394.73L118.60,394.93L118.62,395.15L118.64,395.38L118.67,395.63L118.69,395.89L118.71,396.17L118.74,396.46L118.76,396.77L118.78,397.09L118.81,397.42L118.83,397.77L118.86,398.13L118.88,398.50L118.90,398.88L118.93,399.27L118.95,399.68L118.98,400.09L119.00,400.51L119.03,400.94L119.05,401.38L119.08,401.83L119.10,402.28L119.13,402.74L119.15,403.20L119.18,403.67L119.20,404.14L119.23,404.62L119.26,405.10L119.28,405.58L119.31,406.06L119.33,406.54L119.36,407.03L119.39,407.51L119.41,407.99L119.44,408.46L119.47,408.94L119.49,409.41L119.52,409.87L119.55,410.33L119.57,410.79L119.60,411.23L119.63,411.67L119.65,412.11L119.68,412.53L119.71,412.94L119.74,413.35L119.76,413.74L119.79,414.12L119.82,414.49L119.85,414.84L119.88,415.19L119.90,415.52L119.93,415.83L119.96,416.13L119.99,416.42L120.02,416.69L120.05,416.94L120.08,417.18L120.10,417.40L120.13,417.60L120.16,417.78L120.19,417.95L120.22,418.10L120.25,418.23L120.28,418.33L120.31,418.43L120.34,418.50L120.37,418.55L120.40,418.58L120.43,418.59L120.46,418.58L120.49,418.55L120.52,418.50L120.55,418.44L120.58,418.35L120.61,418.24L120.64,418.11L120.67,417.96L120.71,417.80L120.74,417.61L120.77,417.40L120.80,417.18L120.83,416.93L120.86,416.67L120.89,416.39L120.93,416.09L120.96,415.78L120.99,415.45L121.02,415.10L121.05,414.74L121.09,414.36L121.12,413.96L121.15,413.55L121.18,413.13L121.22,412.70L121.25,412.25L121.28,411.79L121.31,411.32L121.35,410.83L121.38,410.34L121.41,409.84L121.45,409.33L121.48,408.81L121.51,408.29L121.55,407.76L121.58,407.22L121.61,406.68L121.65,406.13L121.68,405.59L121.72,405.03L121.75,404.48L121.79,403.93L121.82,403.38L121.85,402.82L121.89,402.27L121.92,401.73L121.96,401.18L121.99,400.64L122.03,400.10L122.06,399.58L122.10,399.05L122.13,398.54L122.17,398.03L122.21,397.53L122.24,397.04L122.28,396.56L122.31,396.10L122.35,395.64L122.39,395.20L122.42,394.77L122.46,394.35L122.49,393.95L122.53,393.57L122.57,393.20L122.60,392.85L122.64,392.51L122.68,392.19L122.72,391.89L122.75,391.61L122.79,391.35L122.83,391.10L122.86,390.88L122.90,390.68L122.94,390.50L122.98,390.34L123.02,390.20L123.05,390.08L123.09,389.98L123.13,389.91L123.17,389.85L123.21,389.82L123.24,389.81L123.28,389.83L123.32,389.87L123.36,389.92L123.40,390.01L123.44,390.11L123.48,390.24L123.52,390.39L123.56,390.56L123.60,390.75L123.63,390.96L123.67,391.20L123.71,391.45L123.75,391.73L123.79,392.03L123.83,392.34L123.87,392.68L123.91,393.03L123.95,393.41L123.99,393.80L124.04,394.21L124.08,394.64L124.12,395.08L124.16,395.54L124.20,396.01L124.24,396.50L124.28,397.00L124.32,397.52L124.36,398.04L124.40,398.58L124.45,399.13L124.49,399.69L124.53,400.26L124.57,400.84L124.61,401.43L124.66,402.02L124.70,402.62L124.74,403.22L124.78,403.83L124.82,404.44L124.87,405.05L124.91,405.67L124.95,406.28L125.00,406.90L125.04,407.51L125.08,408.12L125.12,408.73L125.17,409.34L125.21,409.94L125.26,410.53L125.30,411.12L125.34,411.70L125.39,412.27L125.43,412.84L125.47,413.39L125.52,413.93L125.56,414.47L125.61,414.98L125.65,415.49L125.70,415.98L125.74,416.46L125.78,416.92L125.83,417.37L125.87,417.79L125.92,418.21L125.96,418.60L126.01,418.97L126.06,419.33L126.10,419.66L126.15,419.98L126.19,420.27L126.24,420.54L126.28,420.79L126.33,421.02L126.38,421.23L126.42,421.41L126.47,421.57L126.51,421.71L126.56,421.82L126.61,421.91L126.65,421.97L126.70,422.01L126.75,422.03L126.79,422.02L126.84,421.99L126.89,421.93L126.94,421.84L126.98,421.74L127.03,421.61L127.08,421.45L127.13,421.27L127.17,421.07L127.22,420.84L127.27,420.59L127.32,420.32L127.37,420.02L127.41,419.70L127.46,419.36L127.51,419.00L127.56,418.62L127.61,418.22L127.66,417.80L127.71,417.36L127.76,416.90L127.80,416.42L127.85,415.92L127.90,415.41L127.95,414.88L128.00,414.34L128.05,413.78L128.10,413.21L128.15,412.63L128.20,412.03L128.25,411.43L128.30,410.81L128.35,410.18L128.40,409.55L128.45,408.90L128.50,408.25L128.55,407.60L128.60,406.94L128.66,406.27L128.71,405.60L128.76,404.93L128.81,404.26L128.86,403.59L128.91,402.92L128.96,402.25L129.01,401.59L129.07,400.93L129.12,400.27L129.17,399.62L129.22,398.97L129.27,398.33L129.33,397.70L129.38,397.08L129.43,396.48L129.48,395.88L129.54,395.29L129.59,394.72L129.64,394.16L129.69,393.61L129.75,393.08L129.80,392.57L129.85,392.07L129.91,391.60L129.96,391.13L130.01,390.69L130.07,390.27L130.12,389.87L130.17,389.49L130.23,389.13L130.28,388.80L130.34,388.48L130.39,388.19L130.45,387.93L130.50,387.68L130.55,387.47L130.61,387.27L130.66,387.10L130.72,386.96L130.77,386.84L130.83,386.75L130.88,386.69L130.94,386.65L130.99,386.63L131.05,386.65L131.11,386.69L131.16,386.75L131.22,386.85L131.27,386.96L131.33,387.11L131.39,387.28L131.44,387.47L131.50,387.70L131.55,387.94L131.61,388.21L131.67,388.51L131.72,388.83L131.78,389.17L131.84,389.54L131.89,389.93L131.95,390.34L132.01,390.78L132.07,391.23L132.12,391.71L132.18,392.20L132.24,392.72L132.30,393.25L132.35,393.80L132.41,394.37L132.47,394.95L132.53,395.55L132.59,396.17L132.64,396.79L132.70,397.44L132.76,398.09L132.82,398.75L132.88,399.43L132.94,400.11L133.00,400.80L133.06,401.50L133.12,402.20L133.17,402.91L133.23,403.63L133.29,404.35L133.35,405.07L133.41,405.79L133.47,406.51L133.53,407.23L133.59,407.95L133.65,408.67L133.71,409.38L133.77,410.09L133.83,410.79L133.89,411.49L133.95,412.17L134.01,412.85L134.08,413.52L134.14,414.18L134.20,414.82L134.26,415.46L134.32,416.08L134.38,416.68L134.44,417.27L134.50,417.85L134.57,418.41L134.63,418.94L134.69,419.47L134.75,419.97L134.81,420.45L134.88,420.91L134.94,421.35L135.00,421.77L135.06,422.16L135.12,422.53L135.19,422.88L135.25,423.20L135.31,423.50L135.38,423.77L135.44,424.02L135.50,424.24L135.57,424.43L135.63,424.60L135.69,424.74L135.76,424.85L135.82,424.94L135.88,425.00L135.95,425.03L136.01,425.03L136.08,425.00L136.14,424.95L136.20,424.87L136.27,424.76L136.33,424.62L136.40,424.46L136.46,424.27L136.53,424.05L136.59,423.80L136.66,423.53L136.72,423.23L136.79,422.91L136.85,422.56L136.92,422.19L136.98,421.79L137.05,421.37L137.11,420.92L137.18,420.45L137.25,419.96L137.31,419.45L137.38,418.92L137.44,418.36L137.51,417.79L137.58,417.20L137.64,416.59L137.71,415.97L137.78,415.32L137.84,414.67L137.91,414.00L137.98,413.31L138.05,412.61L138.11,411.91L138.18,411.19L138.25,410.46L138.31,409.72L138.38,408.98L138.45,408.23L138.52,407.47L138.59,406.71L138.65,405.94L138.72,405.18L138.79,404.41L138.86,403.64L138.93,402.87L139.00,402.11L139.06,401.35L139.13,400.59L139.20,399.84L139.27,399.09L139.34,398.35L139.41,397.62L139.48,396.89L139.55,396.18L139.62,395.48L139.69,394.79L139.76,394.12L139.83,393.46L139.90,392.81L139.97,392.18L140.04,391.57L140.11,390.97L140.18,390.40L140.25,389.84L140.32,389.30L140.39,388.78L140.46,388.29L140.53,387.82L140.60,387.37L140.67,386.94L140.74,386.54L140.81,386.17L140.89,385.82L140.96,385.49L141.03,385.19L141.10,384.92L141.17,384.68L141.24,384.46L141.32,384.27L141.39,384.11L141.46,383.98L141.53,383.88L141.61,383.81L141.68,383.76L141.75,383.75L141.82,383.76L141.90,383.80L141.97,383.88L142.04,383.98L142.11,384.11L142.19,384.27L142.26,384.45L142.33,384.67L142.41,384.92L142.48,385.19L142.56,385.49L142.63,385.81L142.70,386.17L142.78,386.55L142.85,386.96L142.93,387.39L143.00,387.84L143.07,388.32L143.15,388.83L143.22,389.35L143.30,389.90L143.37,390.47L143.45,391.06L143.52,391.68L143.60,392.31L143.67,392.95L143.75,393.62L143.82,394.30L143.90,395.00L143.98,395.71L144.05,396.44L144.13,397.18L144.20,397.93L144.28,398.69L144.35,399.46L144.43,400.24L144.51,401.03L144.58,401.82L144.66,402.62L144.74,403.42L144.81,404.23L144.89,405.04L144.97,405.85L145.04,406.66L145.12,407.47L145.20,408.28L145.28,409.08L145.35,409.88L145.43,410.68L145.51,411.46L145.59,412.25L145.67,413.02L145.74,413.78L145.82,414.53L145.90,415.27L145.98,416.00L146.06,416.71L146.13,417.41L146.21,418.09L146.29,418.76L146.37,419.41L146.45,420.04L146.53,420.65L146.61,421.24L146.69,421.81L146.77,422.36L146.85,422.89L146.93,423.39L147.01,423.87L147.08,424.32L147.16,424.75L147.24,425.16L147.32,425.53L147.40,425.88L147.49,426.21L147.57,426.50L147.65,426.77L147.73,427.01L147.81,427.21L147.89,427.39L147.97,427.54L148.05,427.66L148.13,427.76L148.21,427.82L148.29,427.85L148.37,427.85L148.46,427.81L148.54,427.75L148.62,427.66L148.70,427.54L148.78,427.39L148.87,427.21L148.95,427.00L149.03,426.76L149.11,426.49L149.19,426.19L149.28,425.86L149.36,425.51L149.44,425.13L149.52,424.72L149.61,424.28L149.69,423.82L149.77,423.33L149.86,422.82L149.94,422.28L150.02,421.72L150.11,421.14L150.19,420.54L150.27,419.91L150.36,419.27L150.44,418.60L150.53,417.92L150.61,417.21L150.69,416.50L150.78,415.76L150.86,415.01L150.95,414.25L151.03,413.47L151.12,412.68L151.20,411.88L151.29,411.07L151.37,410.25L151.46,409.43L151.54,408.60L151.63,407.76L151.71,406.91L151.80,406.07L151.89,405.22L151.97,404.37L152.06,403.52L152.14,402.67L152.23,401.82L152.32,400.98L152.40,400.14L152.49,399.31L152.57,398.48L152.66,397.66L152.75,396.85L152.83,396.05L152.92,395.26L153.01,394.48L153.10,393.72L153.18,392.97L153.27,392.23L153.36,391.51L153.44,390.81L153.53,390.13L153.62,389.46L153.71,388.81L153.80,388.19L153.88,387.58L153.97,387.00L154.06,386.44L154.15,385.91L154.24,385.39L154.33,384.91L154.41,384.45L154.50,384.01L154.59,383.61L154.68,383.23L154.77,382.87L154.86,382.55L154.95,382.26L155.04,381.99L155.13,381.76L155.22,381.55L155.31,381.38L155.40,381.23L155.49,381.12L155.58,381.04L155.67,380.98L155.76,380.96L155.85,380.97L155.94,381.02L156.03,381.09L156.12,381.19L156.21,381.33L156.30,381.50L156.39,381.69L156.48,381.92L156.57,382.18L156.66,382.47L156.76,382.78L156.85,383.13L156.94,383.50L157.03,383.91L157.12,384.34L157.21,384.80L157.31,385.28L157.40,385.79L157.49,386.33L157.58,386.89L157.67,387.47L157.77,388.08L157.86,388.71L157.95,389.37L158.04,390.04L158.14,390.73L158.23,391.45L158.32,392.18L158.42,392.92L158.51,393.69L158.60,394.47L158.70,395.26L158.79,396.07L158.88,396.89L158.98,397.73L159.07,398.57L159.17,399.42L159.26,400.28L159.35,401.15L159.45,402.02L159.54,402.90L159.64,403.78L159.73,404.66L159.83,405.55L159.92,406.43L160.02,407.32L160.11,408.20L160.21,409.08L160.30,409.96L160.40,410.83L160.49,411.69L160.59,412.55L160.68,413.40L160.78,414.24L160.87,415.07L160.97,415.88L161.07,416.69L161.16,417.48L161.26,418.25L161.36,419.01L161.45,419.76L161.55,420.48L161.64,421.19L161.74,421.87L161.84,422.54L161.94,423.18L162.03,423.81L162.13,424.41L162.23,424.98L162.32,425.53L162.42,426.06L162.52,426.56L162.62,427.03L162.71,427.48L162.81,427.90L162.91,428.29L163.01,428.65L163.11,428.99L163.21,429.29L163.30,429.56L163.40,429.81L163.50,430.02L163.60,430.20L163.70,430.35L163.80,430.47L163.90,430.56L164.00,430.61L164.09,430.63L164.19,430.62L164.29,430.58L164.39,430.51L164.49,430.41L164.59,430.27L164.69,430.10L164.79,429.90L164.89,429.67L164.99,429.41L165.09,429.12L165.19,428.80L165.29,428.45L165.39,428.07L165.49,427.66L165.59,427.22L165.70,426.75L165.80,426.26L165.90,425.74L166.00,425.19L166.10,424.62L166.20,424.02L166.30,423.40L166.40,422.76L166.51,422.09L166.61,421.40L166.71,420.69L166.81,419.96L166.91,419.21L167.02,418.45L167.12,417.66L167.22,416.86L167.32,416.05L167.43,415.22L167.53,414.37L167.63,413.52L167.73,412.65L167.84,411.77L167.94,410.89L168.04,409.99L168.15,409.09L168.25,408.19L168.35,407.27L168.46,406.36L168.56,405.44L168.66,404.52L168.77,403.60L168.87,402.69L168.98,401.77L169.08,400.86L169.18,399.95L169.29,399.05L169.39,398.15L169.50,397.26L169.60,396.38L169.71,395.51L169.81,394.65L169.92,393.80L170.02,392.97L170.13,392.15L170.23,391.34L170.34,390.55L170.44,389.78L170.55,389.02L170.66,388.29L170.76,387.57L170.87,386.88L170.97,386.20L171.08,385.55L171.19,384.92L171.29,384.32L171.40,383.74L171.51,383.18L171.61,382.65L171.72,382.15L171.83,381.67L171.93,381.23L172.04,380.81L172.15,380.42L172.25,380.06L172.36,379.73L172.47,379.43L172.58,379.16L172.68,378.92L172.79,378.71L172.90,378.54L173.01,378.39L173.12,378.28L173.22,378.20L173.33,378.16L173.44,378.14L173.55,378.16L173.66,378.21L173.77,378.29L173.88,378.41L173.99,378.55L174.09,378.73L174.20,378.94L174.31,379.18L174.42,379.46L174.53,379.76L174.64,380.09L174.75,380.46L174.86,380.85L174.97,381.28L175.08,381.73L175.19,382.21L175.30,382.72L175.41,383.26L175.52,383.82L175.63,384.41L175.74,385.02L175.85,385.66L175.96,386.32L176.07,387.00L176.19,387.71L176.30,388.44L176.41,389.19L176.52,389.95L176.63,390.74L176.74,391.54L176.85,392.37L176.97,393.20L177.08,394.05L177.19,394.92L177.30,395.80L177.41,396.69L177.53,397.59L177.64,398.50L177.75,399.42L177.86,400.35L177.98,401.28L178.09,402.22L178.20,403.16L178.31,404.11L178.43,405.05L178.54,406.00L178.65,406.95L178.77,407.90L178.88,408.84L178.99,409.79L179.11,410.72L179.22,411.65L179.33,412.58L179.45,413.49L179.56,414.40L179.68,415.30L179.79,416.18L179.91,417.06L180.02,417.92L180.13,418.76L180.25,419.60L180.36,420.41L180.48,421.21L180.59,421.99L180.71,422.75L180.82,423.49L180.94,424.21L181.05,424.91L181.17,425.59L181.29,426.24L181.40,426.87L181.52,427.48L181.63,428.06L181.75,428.61L181.86,429.13L181.98,429.63L182.10,430.11L182.21,430.55L182.33,430.96L182.45,431.35L182.56,431.70L182.68,432.03L182.80,432.32L182.91,432.58L183.03,432.81L183.15,433.01L183.27,433.18L183.38,433.31L183.50,433.42L183.62,433.49L183.74,433.52L183.85,433.53L183.97,433.50L184.09,433.44L184.21,433.35L184.33,433.22L184.45,433.07L184.56,432.88L184.68,432.66L184.80,432.40L184.92,432.12L185.04,431.81L185.16,431.46L185.28,431.08L185.40,430.68L185.51,430.24L185.63,429.78L185.75,429.28L185.87,428.76L185.99,428.21L186.11,427.64L186.23,427.04L186.35,426.41L186.47,425.76L186.59,425.09L186.71,424.39L186.83,423.67L186.95,422.93L187.07,422.16L187.20,421.38L187.32,420.58L187.44,419.76L187.56,418.92L187.68,418.07L187.80,417.20L187.92,416.31L188.04,415.42L188.16,414.51L188.29,413.59L188.41,412.66L188.53,411.72L188.65,410.77L188.77,409.81L188.90,408.85L189.02,407.89L189.14,406.92L189.26,405.94L189.39,404.97L189.51,403.99L189.63,403.02L189.75,402.04L189.88,401.07L190.00,400.11L190.12,399.14L190.25,398.19L190.37,397.24L190.49,396.29L190.62,395.36L190.74,394.44L190.86,393.53L190.99,392.63L191.11,391.74L191.24,390.87L191.36,390.01L191.48,389.17L191.61,388.34L191.73,387.54L191.86,386.75L191.98,385.98L192.11,385.23L192.23,384.51L192.36,383.80L192.48,383.12L192.61,382.46L192.73,381.83L192.86,381.22L192.98,380.64L193.11,380.08L193.24,379.55L193.36,379.05L193.49,378.58L193.61,378.13L193.74,377.71L193.87,377.33L193.99,376.97L194.12,376.65L194.25,376.35L194.37,376.09L194.50,375.85L194.63,375.65L194.75,375.49L194.88,375.35L195.01,375.24L195.13,375.17L195.26,375.13L195.39,375.13L195.52,375.15L195.64,375.21L195.77,375.30L195.90,375.42L196.03,375.58L196.16,375.76L196.28,375.98L196.41,376.23L196.54,376.52L196.67,376.83L196.80,377.17L196.93,377.55L197.05,377.95L197.18,378.38L197.31,378.85L197.44,379.34L197.57,379.86L197.70,380.40L197.83,380.98L197.96,381.58L198.09,382.20L198.22,382.86L198.35,383.53L198.48,384.23L198.61,384.95L198.74,385.70L198.87,386.46L199.00,387.25L199.13,388.05L199.26,388.88L199.39,389.72L199.52,390.58L199.65,391.45L199.78,392.34L199.91,393.25L200.05,394.16L200.18,395.09L200.31,396.04L200.44,396.99L200.57,397.95L200.70,398.92L200.83,399.89L200.97,400.88L201.10,401.87L201.23,402.86L201.36,403.85L201.50,404.85L201.63,405.85L201.76,406.85L201.89,407.85L202.03,408.84L202.16,409.83L202.29,410.82L202.42,411.81L202.56,412.78L202.69,413.75L202.82,414.71L202.96,415.66L203.09,416.61L203.22,417.54L203.36,418.45L203.49,419.36L203.63,420.25L203.76,421.12L203.89,421.98L204.03,422.83L204.16,423.65L204.30,424.46L204.43,425.24L204.57,426.01L204.70,426.75L204.84,427.48L204.97,428.18L205.11,428.85L205.24,429.51L205.38,430.14L205.51,430.74L205.65,431.32L205.78,431.87L205.92,432.39L206.05,432.89L206.19,433.35L206.33,433.79L206.46,434.20L206.60,434.58L206.73,434.93L206.87,435.25L207.01,435.54L207.14,435.80L207.28,436.02L207.42,436.22L207.55,436.38L207.69,436.52L207.83,436.62L207.96,436.68L208.10,436.72L208.24,436.72L208.38,436.69L208.51,436.63L208.65,436.54L208.79,436.42L208.93,436.26L209.07,436.07L209.20,435.85L209.34,435.60L209.48,435.32L209.62,435.01L209.76,434.66L209.90,434.29L210.04,433.89L210.17,433.45L210.31,432.99L210.45,432.50L210.59,431.98L210.73,431.44L210.87,430.87L211.01,430.27L211.15,429.64L211.29,429.00L211.43,428.32L211.57,427.63L211.71,426.90L211.85,426.16L211.99,425.40L212.13,424.61L212.27,423.81L212.41,422.98L212.55,422.14L212.69,421.28L212.83,420.41L212.97,419.51L213.11,418.61L213.25,417.68L213.40,416.75L213.54,415.80L213.68,414.84L213.82,413.87L213.96,412.90L214.10,411.91L214.24,410.92L214.39,409.92L214.53,408.91L214.67,407.90L214.81,406.89L214.96,405.87L215.10,404.85L215.24,403.84L215.38,402.82L215.53,401.80L215.67,400.79L215.81,399.78L215.95,398.77L216.10,397.77L216.24,396.78L216.38,395.79L216.53,394.81L216.67,393.85L216.81,392.89L216.96,391.94L217.10,391.00L217.25,390.08L217.39,389.17L217.53,388.28L217.68,387.40L217.82,386.54L217.97,385.70L218.11,384.87L218.26,384.07L218.40,383.28L218.55,382.51L218.69,381.77L218.84,381.04L218.98,380.34L219.13,379.66L219.27,379.01L219.42,378.38L219.56,377.78L219.71,377.20L219.85,376.65L220.00,376.12L220.15,375.62L220.29,375.15L220.44,374.71L220.59,374.30L220.73,373.92L220.88,373.56L221.03,373.24L221.17,372.94L221.32,372.68L221.47,372.44L221.61,372.24L221.76,372.07L221.91,371.93L222.05,371.82L222.20,371.74L222.35,371.69L222.50,371.68L222.64,371.69L222.79,371.74L222.94,371.82L223.09,371.93L223.24,372.07L223.38,372.24L223.53,372.44L223.68,372.68L223.83,372.94L223.98,373.24L224.13,373.56L224.28,373.92L224.43,374.30L224.57,374.71L224.72,375.15L224.87,375.62L225.02,376.12L225.17,376.65L225.32,377.20L225.47,377.77L225.62,378.38L225.77,379.01L225.92,379.66L226.07,380.34L226.22,381.04L226.37,381.76L226.52,382.50L226.67,383.27L226.82,384.06L226.97,384.86L227.12,385.69L227.28,386.53L227.43,387.39L227.58,388.27L227.73,389.17L227.88,390.08L228.03,391.00L228.18,391.94L228.33,392.89L228.49,393.85L228.64,394.82L228.79,395.81L228.94,396.80L229.09,397.80L229.25,398.81L229.40,399.82L229.55,400.84L229.70,401.86L229.86,402.89L230.01,403.92L230.16,404.95L230.32,405.99L230.47,407.02L230.62,408.05L230.77,409.08L230.93,410.11L231.08,411.13L231.24,412.15L231.39,413.16L231.54,414.17L231.70,415.16L231.85,416.15L232.00,417.14L232.16,418.11L232.31,419.07L232.47,420.02L232.62,420.95L232.78,421.87L232.93,422.78L233.09,423.67L233.24,424.55L233.40,425.41L233.55,426.25L233.71,427.08L233.86,427.88L234.02,428.67L234.17,429.44L234.33,430.18L234.48,430.90L234.64,431.61L234.80,432.28L234.95,432.94L235.11,433.57L235.26,434.18L235.42,434.76L235.58,435.32L235.73,435.85L235.89,436.35L236.05,436.83L236.20,437.28L236.36,437.70L236.52,438.09L236.68,438.46L236.83,438.79L236.99,439.10L237.15,439.38L237.30,439.63L237.46,439.85L237.62,440.04L237.78,440.20L237.94,440.32L238.09,440.42L238.25,440.49L238.41,440.53L238.57,440.54L238.73,440.52L238.89,440.46L239.05,440.38L239.20,440.27L239.36,440.12L239.52,439.95L239.68,439.75L239.84,439.52L240.00,439.25L240.16,438.96L240.32,438.64L240.48,438.29L240.64,437.92L240.80,437.51L240.96,437.08L241.12,436.62L241.28,436.13L241.44,435.62L241.60,435.08L241.76,434.51L241.92,433.92L242.08,433.31L242.24,432.67L242.40,432.01L242.56,431.32L242.72,430.61L242.88,429.88L243.05,429.13L243.21,428.36L243.37,427.57L243.53,426.76L243.69,425.93L243.85,425.09L244.02,424.22L244.18,423.34L244.34,422.45L244.50,421.54L244.66,420.61L244.83,419.67L244.99,418.72L245.15,417.76L245.31,416.79L245.48,415.80L245.64,414.81L245.80,413.81L245.97,412.80L246.13,411.78L246.29,410.76L246.46,409.73L246.62,408.70L246.78,407.67L246.95,406.63L247.11,405.59L247.27,404.55L247.44,403.50L247.60,402.46L247.77,401.42L247.93,400.39L248.10,399.35L248.26,398.32L248.43,397.30L248.59,396.28L248.75,395.26L248.92,394.26L249.08,393.26L249.25,392.27L249.42,391.29L249.58,390.32L249.75,389.37L249.91,388.42L250.08,387.49L250.24,386.57L250.41,385.66L250.57,384.77L250.74,383.90L250.91,383.04L251.07,382.20L251.24,381.37L251.41,380.57L251.57,379.78L251.74,379.01L251.91,378.27L252.07,377.54L252.24,376.84L252.41,376.15L252.57,375.49L252.74,374.85L252.91,374.24L253.08,373.64L253.24,373.08L253.41,372.53L253.58,372.02L253.75,371.52L253.92,371.06L254.08,370.62L254.25,370.20L254.42,369.82L254.59,369.46L254.76,369.12L254.93,368.82L255.09,368.54L255.26,368.29L255.43,368.07L255.60,367.88L255.77,367.71L255.94,367.58L256.11,367.47L256.28,367.39L256.45,367.34L256.62,367.32L256.79,367.33L256.96,367.36L257.13,367.43L257.30,367.52L257.47,367.64L257.64,367.79L257.81,367.97L257.98,368.18L258.15,368.42L258.32,368.68L258.49,368.97L258.66,369.29L258.83,369.63L259.00,370.00L259.18,370.40L259.35,370.83L259.52,371.28L259.69,371.75L259.86,372.25L260.03,372.78L260.20,373.33L260.38,373.90L260.55,374.50L260.72,375.12L260.89,375.77L261.07,376.43L261.24,377.12L261.41,377.83L261.58,378.55L261.76,379.30L261.93,380.07L262.10,380.86L262.27,381.66L262.45,382.48L262.62,383.32L262.79,384.18L262.97,385.05L263.14,385.94L263.31,386.84L263.49,387.75L263.66,388.68L263.84,389.62L264.01,390.57L264.18,391.54L264.36,392.51L264.53,393.49L264.71,394.49L264.88,395.49L265.06,396.50L265.23,397.51L265.41,398.53L265.58,399.56L265.76,400.59L265.93,401.62L266.11,402.66L266.28,403.70L266.46,404.74L266.63,405.78L266.81,406.83L266.99,407.87L267.16,408.91L267.34,409.95L267.51,410.98L267.69,412.01L267.87,413.04L268.04,414.06L268.22,415.08L268.40,416.09L268.57,417.10L268.75,418.09L268.93,419.08L269.10,420.06L269.28,421.03L269.46,421.98L269.63,422.93L269.81,423.87L269.99,424.79L270.17,425.70L270.34,426.59L270.52,427.47L270.70,428.34L270.88,429.19L271.06,430.03L271.24,430.84L271.41,431.65L271.59,432.43L271.77,433.19L271.95,433.94L272.13,434.67L272.31,435.38L272.49,436.06L272.66,436.73L272.84,437.38L273.02,438.00L273.20,438.60L273.38,439.18L273.56,439.74L273.74,440.28L273.92,440.79L274.10,441.27L274.28,441.74L274.46,442.18L274.64,442.59L274.82,442.98L275.00,443.35L275.18,443.69L275.36,444.00L275.54,444.29L275.73,444.56L275.91,444.79L276.09,445.00L276.27,445.19L276.45,445.35L276.63,445.48L276.81,445.59L276.99,445.67L277.18,445.72L277.36,445.75L277.54,445.75L277.72,445.72L277.90,445.67L278.09,445.59L278.27,445.48L278.45,445.35L278.63,445.19L278.81,445.01L279.00,444.80L279.18,444.56L279.36,444.30L279.55,444.02L279.73,443.71L279.91,443.37L280.10,443.01L280.28,442.62L280.46,442.22L280.65,441.78L280.83,441.33L281.01,440.85L281.20,440.34L281.38,439.82L281.57,439.27L281.75,438.70L281.93,438.11L282.12,437.50L282.30,436.87L282.49,436.21L282.67,435.54L282.86,434.85L283.04,434.14L283.23,433.41L283.41,432.66L283.60,431.90L283.78,431.12L283.97,430.32L284.15,429.50L284.34,428.67L284.53,427.83L284.71,426.97L284.90,426.10L285.08,425.21L285.27,424.31L285.46,423.40L285.64,422.48L285.83,421.54L286.01,420.60L286.20,419.64L286.39,418.68L286.57,417.71L286.76,416.73L286.95,415.74L287.14,414.74L287.32,413.74L287.51,412.73L287.70,411.72L287.89,410.70L288.07,409.68L288.26,408.66L288.45,407.63L288.64,406.60L288.83,405.57L289.01,404.54L289.20,403.51L289.39,402.48L289.58,401.45L289.77,400.42L289.96,399.40L290.14,398.37L290.33,397.35L290.52,396.34L290.71,395.32L290.90,394.32L291.09,393.32L291.28,392.32L291.47,391.33L291.66,390.35L291.85,389.38L292.04,388.42L292.23,387.46L292.42,386.52L292.61,385.58L292.80,384.66L292.99,383.75L293.18,382.85L293.37,381.96L293.56,381.08L293.75,380.22L293.94,379.37L294.13,378.53L294.32,377.71L294.52,376.90L294.71,376.11L294.90,375.34L295.09,374.58L295.28,373.84L295.47,373.11L295.66,372.40L295.86,371.71L296.05,371.04L296.24,370.39L296.43,369.75L296.63,369.14L296.82,368.54L297.01,367.97L297.20,367.41L297.40,366.88L297.59,366.36L297.78,365.87L297.97,365.39L298.17,364.94L298.36,364.51L298.55,364.10L298.75,363.72L298.94,363.35L299.13,363.01L299.33,362.69L299.52,362.39L299.72,362.12L299.91,361.87L300.10,361.64L300.30,361.43L300.49,361.25L300.69,361.09L300.88,360.96L301.08,360.84L301.27,360.75L301.47,360.69L301.66,360.64L301.86,360.62L302.05,360.63L302.25,360.65L302.44,360.70L302.64,360.78L302.83,360.87L303.03,360.99L303.22,361.13L303.42,361.30L303.62,361.48L303.81,361.69L304.01,361.93L304.20,362.18L304.40,362.46L304.60,362.75L304.79,363.07L304.99,363.41L305.19,363.78L305.38,364.16L305.58,364.57L305.78,364.99L305.98,365.44L306.17,365.90L306.37,366.39L306.57,366.89L306.77,367.42L306.96,367.96L307.16,368.52L307.36,369.10L307.56,369.70L307.76,370.32L307.95,370.95L308.15,371.60L308.35,372.27L308.55,372.95L308.75,373.65L308.95,374.37L309.15,375.10L309.34,375.84L309.54,376.60L309.74,377.38L309.94,378.16L310.14,378.97L310.34,379.78L310.54,380.61L310.74,381.45L310.94,382.30L311.14,383.16L311.34,384.03L311.54,384.91L311.74,385.81L311.94,386.71L312.14,387.62L312.34,388.54L312.54,389.47L312.74,390.41L312.94,391.35L313.14,392.30L313.34,393.26L313.55,394.22L313.75,395.19L313.95,396.16L314.15,397.14L314.35,398.12L314.55,399.11L314.75,400.10L314.96,401.09L315.16,402.08L315.36,403.08L315.56,404.08L315.76,405.08L315.97,406.08L316.17,407.08L316.37,408.07L316.57,409.07L316.78,410.07L316.98,411.06L317.18,412.06L317.39,413.05L317.59,414.03L317.79,415.02L318.00,416.00L318.20,416.97L318.40,417.94L318.61,418.91L318.81,419.87L319.01,420.82L319.22,421.77L319.42,422.71L319.63,423.65L319.83,424.57L320.04,425.49L320.24,426.40L320.44,427.31L320.65,428.20L320.85,429.08L321.06,429.96L321.26,430.82L321.47,431.68L321.67,432.52L321.88,433.35L322.08,434.17L322.29,434.98L322.50,435.78L322.70,436.56L322.91,437.33L323.11,438.09L323.32,438.84L323.53,439.57L323.73,440.29L323.94,440.99L324.14,441.68L324.35,442.36L324.56,443.02L324.76,443.67L324.97,444.30L325.18,444.91L325.39,445.51L325.59,446.10L325.80,446.67L326.01,447.22L326.21,447.76L326.42,448.27L326.63,448.78L326.84,449.26L327.05,449.73L327.25,450.18L327.46,450.62L327.67,451.03L327.88,451.43L328.09,451.81L328.29,452.18L328.50,452.52L328.71,452.85L328.92,453.16L329.13,453.45L329.34,453.73L329.55,453.98L329.76,454.22L329.97,454.44L330.18,454.64L330.38,454.82L330.59,454.98L330.80,455.13L331.01,455.26L331.22,455.36L331.43,455.45L331.64,455.52L331.85,455.58L332.06,455.61L332.27,455.63L332.49,455.63L332.70,455.61L332.91,455.57L333.12,455.51L333.33,455.44L333.54,455.34L333.75,455.23L333.96,455.11L334.17,454.96L334.38,454.80L334.60,454.61L334.81,454.42L335.02,454.20L335.23,453.97L335.44,453.72L335.66,453.45L335.87,453.17L336.08,452.86L336.29,452.55L336.50,452.21L336.72,451.86L336.93,451.50L337.14,451.12L337.36,450.72L337.57,450.31L337.78,449.88L337.99,449.44L338.21,448.98L338.42,448.51L338.64,448.02L338.85,447.52L339.06,447.00L339.28,446.47L339.49,445.93L339.70,445.37L339.92,444.80L340.13,444.22L340.35,443.62L340.56,443.02L340.78,442.39L340.99,441.76L341.21,441.12L341.42,440.46L341.63,439.79L341.85,439.11L342.06,438.42L342.28,437.72L342.50,437.01L342.71,436.29L342.93,435.56L343.14,434.82L343.36,434.07L343.57,433.31L343.79,432.54L344.01,431.76L344.22,430.98L344.44,430.18L344.65,429.38L344.87,428.57L345.09,427.76L345.30,426.93L345.52,426.10L345.74,425.27L345.95,424.42L346.17,423.57L346.39,422.72L346.61,421.86L346.82,420.99L347.04,420.12L347.26,419.25L347.48,418.37L347.69,417.49L347.91,416.60L348.13,415.71L348.35,414.81L348.57,413.92L348.78,413.02L349.00,412.11L349.22,411.21L349.44,410.30L349.66,409.39L349.88,408.48L350.10,407.57L350.32,406.65L350.54,405.74L350.75,404.83L350.97,403.91L351.19,402.99L351.41,402.08L351.63,401.17L351.85,400.25L352.07,399.34L352.29,398.43L352.51,397.51L352.73,396.61L352.95,395.70L353.17,394.79L353.39,393.89L353.61,392.99L353.83,392.09L354.05,391.19L354.28,390.30L354.50,389.41L354.72,388.52L354.94,387.64L355.16,386.76L355.38,385.89L355.60,385.02L355.82,384.15L356.05,383.29L356.27,382.43L356.49,381.58L356.71,380.74L356.93,379.89L357.16,379.06L357.38,378.23L357.60,377.40L357.82,376.59L358.05,375.77L358.27,374.97L358.49,374.17L358.71,373.37L358.94,372.59L359.16,371.81L359.38,371.04L359.61,370.27L359.83,369.51L360.05,368.76L360.28,368.02L360.50,367.28L360.73,366.55L360.95,365.83L361.17,365.12L361.40,364.42L361.62,363.72L361.85,363.03L362.07,362.35L362.30,361.68L362.52,361.02L362.74,360.37L362.97,359.72L363.19,359.08L363.42,358.46L363.64,357.84L363.87,357.23L364.10,356.63L364.32,356.04L364.55,355.45L364.77,354.88L365.00,354.32L365.22,353.76L365.45,353.22L365.68,352.68L365.90,352.16L366.13,351.64L366.35,351.13L366.58,350.64L366.81,350.15L367.03,349.67L367.26,349.20L367.49,348.74L367.72,348.29L367.94,347.86L368.17,347.43L368.40,347.01L368.62,346.60L368.85,346.20L369.08,345.81L369.31,345.43L369.54,345.06L369.76,344.69L369.99,344.34L370.22,344.00L370.45,343.67L370.68,343.35L370.90,343.04L371.13,342.73L371.36,342.44L371.59,342.16L371.82,341.88L372.05,341.62L372.28,341.36L372.51,341.12L372.74,340.88L372.96,340.66L373.19,340.44L373.42,340.23L373.65,340.04L373.88,339.85L374.11,339.67L374.34,339.50L374.57,339.34L374.80,339.18L375.03,339.04L375.26,338.91L375.49,338.78L375.73,338.66L375.96,338.55L376.19,338.46L376.42,338.37L376.65,338.28L376.88,338.21L377.11,338.14L377.34,338.09L377.57,338.04L377.81,338.00L378.04,337.97L378.27,337.94L378.50,337.93L378.73,337.92L378.96,337.92L379.20,337.93L379.43,337.94L379.66,337.96L379.89,338.00L380.13,338.03L380.36,338.08L380.59,338.13L380.82,338.19L381.06,338.26L381.29,338.33L381.52,338.41L381.76,338.50L381.99,338.59L382.22,338.69L382.46,338.80L382.69,338.92L382.92,339.04L383.16,339.16L383.39,339.30L383.63,339.44L383.86,339.58L384.09,339.73L384.33,339.89L384.56,340.05L384.80,340.22L385.03,340.39L385.27,340.57L385.50,340.76L385.74,340.95L385.97,341.14L386.21,341.34L386.44,341.55L386.68,341.76L386.91,341.97L387.15,342.19L387.39,342.42L387.62,342.65L387.86,342.88L388.09,343.12L388.33,343.36L388.57,343.61L388.80,343.86L389.04,344.11L389.28,344.37L389.51,344.63L389.75,344.90L389.99,345.17L390.22,345.44L390.46,345.72L390.70,346.00L390.93,346.28L391.17,346.57L391.41,346.86L391.65,347.15L391.88,347.45L392.12,347.75L392.36,348.05L392.60,348.35L392.84,348.66L393.07,348.97L393.31,349.28L393.55,349.59L393.79,349.91L394.03,350.23L394.27,350.55L394.50,350.87L394.74,351.20L394.98,351.52L395.22,351.85L395.46,352.18L395.70,352.51L395.94,352.84L396.18,353.18L396.42,353.52L396.66,353.85L396.90,354.19L397.14,354.53L397.38,354.87L397.62,355.21L397.86,355.56L398.10,355.90L398.34,356.25L398.58,356.59L398.82,356.94L399.06,357.29L399.30,357.63L399.54,357.98L399.78,358.33L400.03,358.68L400.27,359.03L400.51,359.38L400.75,359.73L400.99,360.08L401.23,360.43L401.47,360.78L401.72,361.13L401.96,361.48L402.20,361.83L402.44,362.18L402.68,362.53L402.93,362.88L403.17,363.23L403.41,363.58L403.65,363.93L403.90,364.27L404.14,364.62L404.38,364.97L404.63,365.31L404.87,365.66L405.11,366.00L405.36,366.35L405.60,366.69L405.84,367.04L406.09,367.38L406.33,367.72L406.57,368.06L406.82,368.40L407.06,368.73L407.31,369.07L407.55,369.41L407.80,369.74L408.04,370.08L408.29,370.41L408.53,370.74L408.77,371.07L409.02,371.40L409.26,371.72L409.51,372.05L409.76,372.38L410.00,372.70L410.25,373.02L410.49,373.34L410.74,373.66L410.98,373.98L411.23,374.29L411.47,374.61L411.72,374.92L411.97,375.23L412.21,375.54L412.46,375.85L412.71,376.15L412.95,376.46L413.20,376.76L413.45,377.06L413.69,377.36L413.94,377.66L414.19,377.95L414.43,378.25L414.68,378.54L414.93,378.83L415.18,379.12L415.42,379.40L415.67,379.69L415.92,379.97L416.17,380.25L416.42,380.53L416.66,380.81L416.91,381.08L417.16,381.36L417.41,381.63L417.66,381.90L417.91,382.17L418.15,382.43L418.40,382.69L418.65,382.96L418.90,383.22L419.15,383.47L419.40,383.73L419.65,383.98L419.90,384.23L420.15,384.48L420.40,384.73L420.65,384.98L420.90,385.22L421.15,385.46L421.40,385.70L421.65,385.94L421.90,386.18L422.15,386.41L422.40,386.64L422.65,386.87L422.90,387.10L423.15,387.32L423.40,387.55L423.65,387.77L423.90,387.99L424.15,388.21L424.41,388.42L424.66,388.64L424.91,388.85L425.16,389.06L425.41,389.27L425.66,389.47L425.92,389.67L426.17,389.88L426.42,390.08L426.67,390.27L426.92,390.47L427.18,390.66L427.43,390.86L427.68,391.05L427.93,391.24L428.19,391.42L428.44,391.61L428.69,391.79L428.95,391.97L429.20,392.15L429.45,392.33L429.71,392.50L429.96,392.67L430.21,392.85L430.47,393.01L430.72,393.18L430.97,393.35L431.23,393.51L431.48,393.67L431.74,393.84L431.99,393.99L432.25,394.15L432.50,394.31L432.76,394.46L433.01,394.61L433.27,394.76L433.52,394.91L433.78,395.06L434.03,395.20L434.29,395.35L434.54,395.49L434.80,395.63L435.05,395.77L435.31,395.90L435.56,396.04L435.82,396.17L436.08,396.30L436.33,396.43L436.59,396.56L436.84,396.69L437.10,396.81L437.36,396.94L437.61,397.06L437.87,397.18L438.13,397.30L438.38,397.42L438.64,397.54L438.90,397.65L439.16,397.77L439.41,397.88L439.67,397.99L439.93,398.10L440.19,398.21L440.44,398.31L440.70,398.42L440.96,398.52L441.22,398.62L441.47,398.73L441.73,398.83L441.99,398.92L442.25,399.02L442.51,399.12L442.77,399.21L443.03,399.31L443.28,399.40L443.54,399.49L443.80,399.58L444.06,399.67L444.32,399.75L444.58,399.84L444.84,399.93L445.10,400.01L445.36,400.09L445.62,400.17L445.88,400.25L446.14,400.33L446.40,400.41L446.66,400.49L446.92,400.56L447.18,400.64L447.44,400.71L447.70,400.78L447.96,400.86L448.22,400.93L448.48,401.00L448.74,401.07L449.01,401.13L449.27,401.20L449.53,401.26L449.79,401.33L450.05,401.39L450.31,401.46L450.57,401.52L450.84,401.58L451.10,401.64L451.36,401.70L451.62,401.76L451.88,401.81L452.15,401.87L452.41,401.93L452.67,401.98L452.93,402.04L453.20,402.09L453.46,402.14L453.72,402.19L453.99,402.24L454.25,402.29L454.51,402.34L454.78,402.39L455.04,402.44L455.30,402.49L455.57,402.53L455.83,402.58L456.09,402.62L456.36,402.67L456.62,402.71L456.89,402.75L457.15,402.79L457.42,402.84L457.68,402.88L457.94,402.92L458.21,402.96L458.47,402.99L458.74,403.03L459.00,403.07L459.27,403.11L459.53,403.14L459.80,403.18L460.07,403.21L460.33,403.25L460.60,403.28L460.86,403.32L461.13,403.35L461.39,403.38L461.66,403.41L461.93,403.44L462.19,403.48L462.46,403.51L462.72,403.54L462.99,403.56L463.26,403.59L463.52,403.62L463.79,403.65L464.06,403.68L464.33,403.70L464.59,403.73L464.86,403.76L465.13,403.78L465.39,403.81L465.66,403.83L465.93,403.86L466.20,403.88L466.47,403.90L466.73,403.93L467.00,403.95L467.27,403.97L467.54,403.99L467.81,404.01L468.08,404.03L468.34,404.06L468.61,404.08L468.88,404.10L469.15,404.11L469.42,404.13L469.69,404.15L469.96,404.17L470.23,404.19L470.50,404.21L470.77,404.23L471.04,404.24L471.31,404.26L471.57,404.28L471.84,404.29L472.11,404.31L472.39,404.32L472.66,404.34L472.93,404.35L473.20,404.37L473.47,404.38L473.74,404.40L474.01,404.41L474.28,404.43L474.55,404.44L474.82,404.45L475.09,404.47L475.36,404.48L475.63,404.49L475.91,404.50L476.18,404.52L476.45,404.53L476.72,404.54L476.99,404.55L477.26,404.56L477.54,404.57L477.81,404.58L478.08,404.60L478.35,404.61L478.63,404.62L478.90,404.63L479.17,404.64L479.44,404.65L479.72,404.65L479.99,404.66L480.26,404.67L480.54,404.68L480.81,404.69L481.08,404.70L481.36,404.71L481.63,404.72L481.90,404.72L482.18,404.73L482.45,404.74L482.73,404.75L483.00,404.75L483.27,404.76L483.55,404.77L483.82,404.78L484.10,404.78L484.37,404.79L484.65,404.80L484.92,404.80L485.20,404.81L485.47,404.82L485.75,404.82L486.02,404.83L486.30,404.83L486.57,404.84L486.85,404.85L487.12,404.85L487.40,404.86L487.68,404.86L487.95,404.87L488.23,404.87L488.50,404.88L488.78,404.88L489.06,404.89L489.33,404.89L489.61,404.90L489.89,404.90L489.89,405.10Z" fill="#9fa161"/>
<line x1="116.4" y1="116.75" x2="733.5" y2="116.75" stroke="#a30a33" stroke-width="3.1" stroke-dasharray="11.94 5.17"/>
<line x1="116.4" y1="405.1" x2="733.5" y2="405.1" stroke="#a30a33" stroke-width="3.1" stroke-dasharray="11.94 5.17"/>
<path d="M360.90,800.05L362.74,778.93L364.59,758.11L366.44,737.61L368.28,717.40L370.13,697.49L371.97,677.87L373.82,658.53L375.67,639.46L377.51,620.66L379.36,602.12L381.21,583.84L383.05,565.82L384.90,548.04L386.75,530.50L388.59,513.20L390.44,496.14L392.28,479.30L394.13,462.68L395.98,446.29L397.82,430.11L399.67,414.14L401.52,398.37L403.36,382.81L405.21,367.45L407.05,352.28L408.90,337.30L410.75,322.51L412.59,307.90L414.44,293.48L416.29,279.23L418.13,265.16L419.98,251.25L421.83,237.52L423.67,223.95L425.52,210.54L427.36,197.29L429.21,184.19L431.06,171.25L432.90,158.46L434.75,145.82L436.60,133.33L438.44,120.97L440.29,108.76L442.13,96.69L443.98,84.75L445.83,72.94L447.67,61.27L449.52,49.72L451.37,38.31L453.21,27.01L455.06,15.84L456.90,4.80L458.75,-6.13L460.60,-16.95L462.44,-27.64L464.29,-38.23L466.14,-48.70L467.98,-59.06L469.83,-69.32" fill="none" stroke="#00477d" stroke-width="3.5"/>
</g>
<rect x="438.6" y="411.2" width="285.3" height="98.5" rx="4" ry="4" fill="#fff" fill-opacity="0.8" stroke="#d2d2d2" stroke-width="1.7"/>
<line x1="445.8" y1="425.9" x2="487.9" y2="426.0" stroke="#00477d" stroke-width="3.2" stroke-linecap="square"/>
<line x1="445.8" y1="458.2" x2="487.9" y2="458.2" stroke="#a30a33" stroke-width="3.1" stroke-dasharray="11.94 5.17"/>
<rect x="445.8" y="483" width="42.099999999999966" height="14" fill="#9fa161" stroke="#95974f" stroke-width="0.8"/>
<text x="503.9" y="433.7" font-family='"DejaVu Serif","Liberation Serif",serif' font-size="20.7" text-anchor="start" fill="#000" id="lg1" textLength="165.3" lengthAdjust="spacing">model potential</text>
<text x="503.9" y="465.5" font-family='"DejaVu Serif","Liberation Serif",serif' font-size="20.7" text-anchor="start" fill="#000" id="lg2" textLength="132.4" lengthAdjust="spacing">state energy</text>
<text x="503.9" y="496.3" font-family='"DejaVu Serif","Liberation Serif",serif' font-size="20.7" text-anchor="start" fill="#000" id="lg3" textLength="210.3" lengthAdjust="spacing">radial wavefunction</text>
<rect x="116.4" y="30.8" width="617.10" height="489.40" fill="none" stroke="#000" stroke-width="1.6"/>
<text x="109.0" y="37.9" font-family='"DejaVu Serif","Liberation Serif",serif' font-size="20.7" text-anchor="end" fill="#000" id="ly0">−0.022</text>
<text x="109.0" y="131.35000000000008" font-family='"DejaVu Serif","Liberation Serif",serif' font-size="20.7" text-anchor="end" fill="#000" id="ly1">−0.023</text>
<text x="109.0" y="224.80000000000018" font-family='"DejaVu Serif","Liberation Serif",serif' font-size="20.7" text-anchor="end" fill="#000" id="ly2">−0.024</text>
<text x="109.0" y="318.2500000000002" font-family='"DejaVu Serif","Liberation Serif",serif' font-size="20.7" text-anchor="end" fill="#000" id="ly3">−0.025</text>
<text x="109.0" y="411.7" font-family='"DejaVu Serif","Liberation Serif",serif' font-size="20.7" text-anchor="end" fill="#000" id="ly4">−0.026</text>
<text x="109.0" y="505.1500000000001" font-family='"DejaVu Serif","Liberation Serif",serif' font-size="20.7" text-anchor="end" fill="#000" id="ly5">−0.027</text>
<text x="116.4" y="542.9" font-family='"DejaVu Serif","Liberation Serif",serif' font-size="20.7" text-anchor="middle" fill="#000" id="lx0">0</text>
<text x="252.6" y="542.9" font-family='"DejaVu Serif","Liberation Serif",serif' font-size="20.7" text-anchor="middle" fill="#000" id="lx500">500</text>
<text x="388.7" y="542.9" font-family='"DejaVu Serif","Liberation Serif",serif' font-size="20.7" text-anchor="middle" fill="#000" id="lx1000">1000</text>
<text x="524.9" y="542.9" font-family='"DejaVu Serif","Liberation Serif",serif' font-size="20.7" text-anchor="middle" fill="#000" id="lx1500">1500</text>
<text x="661.1" y="542.9" font-family='"DejaVu Serif","Liberation Serif",serif' font-size="20.7" text-anchor="middle" fill="#000" id="lx2000">2000</text>
<text id="xl1" x="425.3" y="572.4" font-size="20.7" text-anchor="middle" textLength="254" lengthAdjust="spacing" font-family='"DejaVu Serif","Liberation Serif",serif'>Distance to nucleus (<tspan font-family='"DejaVu Sans","Liberation Sans",sans-serif' font-style="italic">a</tspan><tspan font-family='"DejaVu Sans","Liberation Sans",sans-serif' font-size="14.5" dy="3.2">0</tspan><tspan dy="-3.2">)</tspan></text>
<text id="yl1" transform="translate(18.5,407.0) rotate(-90)" font-size="20.7" textLength="260.4" lengthAdjust="spacing" font-family='"DejaVu Serif","Liberation Serif",serif'>Atomic state energy (eV)</text>
<text id="s27" x="726.0" y="102.0" font-size="25.5" text-anchor="end" letter-spacing="-0.75" font-family='"DejaVu Sans","Liberation Sans",sans-serif'>27<tspan font-style="italic">P</tspan><tspan font-size="17.8" dy="3.2">3/2</tspan></text>
<text id="s26" x="726.0" y="390.2" font-size="25.5" text-anchor="end" letter-spacing="-0.75" font-family='"DejaVu Sans","Liberation Sans",sans-serif'>26<tspan font-style="italic">S</tspan><tspan font-size="17.8" dy="3.2">1/2</tspan></text>
<line x1="689.6" y1="174.7" x2="689.6" y2="332.1" stroke="#762678" stroke-width="5.6"/>
<path d="M689.6,158.2L699.8000000000001,175.7L679.4,175.7Z" fill="#762678"/>
<path d="M689.6,348.6L699.8000000000001,331.1L679.4,331.1Z" fill="#762678"/>
<text id="thz" transform="translate(673.8,261) rotate(-90)" font-size="20.7" text-anchor="middle" textLength="84.3" lengthAdjust="spacing" font-family='"DejaVu Serif","Liberation Serif",serif'>0.7 THz</text>
<text id="tera" transform="translate(711,263.8) rotate(-90)" font-size="20.7" text-anchor="middle" font-family='"DejaVu Serif","Liberation Serif",serif'>terahertz</text>
<g clip-path="url(#cr)">
<path d="M972.74,499.49L1014.24,458.84L1045.08,428.96L1070.13,405.54L1091.23,384.87L1109.46,368.21L1125.50,352.93L1139.83,339.67L1152.77,327.13L1164.58,315.77L1175.43,305.81L1185.46,296.53L1194.80,288.21L1203.53,280.37L1211.72,272.54L1219.45,265.16L1226.75,258.17L1233.68,251.55L1240.26,245.25L1246.54,239.24L1252.53,233.50L1258.27,228.01L1263.78,222.74L1269.07,217.68L1274.15,212.80L1279.05,208.11L1283.78,203.58L1288.35,199.20L1292.76,194.97L1297.04,190.87L1301.18,186.90L1305.20,183.04L1309.10,179.30L1312.90,175.66L1316.58,172.13L1320.17,168.68L1323.67,165.33L1327.08,162.06L1330.40,158.87L1333.64,155.76L1336.81,152.72L1339.90,149.75L1342.92,146.85L1345.88,144.01L1348.77,141.23L1351.60,138.52L1354.37,135.85L1357.09,133.24L1359.75,130.68L1362.36,128.18L1364.92,125.72L1367.44,123.30L1369.90,120.93L1372.33,118.60L1374.71,116.31L1377.04,114.07L1379.34,111.86L1381.60,109.69L1383.82,107.55L1386.01,105.45L1388.16,103.38L1390.27,101.35L1392.36,99.34L1394.41,97.37L1396.43,95.42L1398.42,93.51L1400.38,91.62L1402.31,89.76L1404.22,87.93L1406.10,86.12L1407.95,84.34L1409.78,82.58L1411.58,80.84L1413.36,79.13L1415.12,77.44L1416.85,75.77L1418.56,74.12L1420.25,72.50L1421.92,70.89L1423.57,69.30L1425.20,67.73L1426.81,66.19L1428.40,64.66L1429.97,63.14L1431.52,61.65L1433.06,60.17L1434.57,58.71L1436.07,57.26L1437.56,55.83L1439.03,54.42" fill="none" stroke="#762678" stroke-width="2.4" stroke-dasharray="2.4 3.96"/>
<circle cx="972.74" cy="499.49" r="5.0" fill="#7b2f7c" stroke="#611764" stroke-width="1.5"/>
<circle cx="1014.24" cy="458.84" r="5.0" fill="#7b2f7c" stroke="#611764" stroke-width="1.5"/>
<circle cx="1045.08" cy="428.96" r="5.0" fill="#7b2f7c" stroke="#611764" stroke-width="1.5"/>
<circle cx="1070.13" cy="405.54" r="5.0" fill="#7b2f7c" stroke="#611764" stroke-width="1.5"/>
<circle cx="1091.23" cy="384.87" r="5.0" fill="#7b2f7c" stroke="#611764" stroke-width="1.5"/>
<circle cx="1109.46" cy="368.21" r="5.0" fill="#7b2f7c" stroke="#611764" stroke-width="1.5"/>
<circle cx="1125.50" cy="352.93" r="5.0" fill="#7b2f7c" stroke="#611764" stroke-width="1.5"/>
<circle cx="1139.83" cy="339.67" r="5.0" fill="#7b2f7c" stroke="#611764" stroke-width="1.5"/>
<circle cx="1152.77" cy="327.13" r="5.0" fill="#7b2f7c" stroke="#611764" stroke-width="1.5"/>
<circle cx="1164.58" cy="315.77" r="5.0" fill="#7b2f7c" stroke="#611764" stroke-width="1.5"/>
<circle cx="1175.43" cy="305.81" r="5.0" fill="#7b2f7c" stroke="#611764" stroke-width="1.5"/>
<circle cx="1185.46" cy="296.53" r="5.0" fill="#7b2f7c" stroke="#611764" stroke-width="1.5"/>
<circle cx="1194.80" cy="288.21" r="5.0" fill="#7b2f7c" stroke="#611764" stroke-width="1.5"/>
<circle cx="1203.53" cy="280.37" r="5.0" fill="#7b2f7c" stroke="#611764" stroke-width="1.5"/>
<circle cx="1211.72" cy="272.54" r="5.0" fill="#7b2f7c" stroke="#611764" stroke-width="1.5"/>
<circle cx="1219.45" cy="265.16" r="5.0" fill="#7b2f7c" stroke="#611764" stroke-width="1.5"/>
<circle cx="1226.75" cy="258.17" r="5.0" fill="#7b2f7c" stroke="#611764" stroke-width="1.5"/>
<circle cx="1233.68" cy="251.55" r="5.0" fill="#7b2f7c" stroke="#611764" stroke-width="1.5"/>
<circle cx="1240.26" cy="245.25" r="5.0" fill="#7b2f7c" stroke="#611764" stroke-width="1.5"/>
<circle cx="1246.54" cy="239.24" r="5.0" fill="#7b2f7c" stroke="#611764" stroke-width="1.5"/>
<circle cx="1252.53" cy="233.50" r="5.0" fill="#7b2f7c" stroke="#611764" stroke-width="1.5"/>
<circle cx="1258.27" cy="228.01" r="5.0" fill="#7b2f7c" stroke="#611764" stroke-width="1.5"/>
<circle cx="1263.78" cy="222.74" r="5.0" fill="#7b2f7c" stroke="#611764" stroke-width="1.5"/>
<circle cx="1269.07" cy="217.68" r="5.0" fill="#7b2f7c" stroke="#611764" stroke-width="1.5"/>
<circle cx="1274.15" cy="212.80" r="5.0" fill="#7b2f7c" stroke="#611764" stroke-width="1.5"/>
<circle cx="1279.05" cy="208.11" r="5.0" fill="#7b2f7c" stroke="#611764" stroke-width="1.5"/>
<circle cx="1283.78" cy="203.58" r="5.0" fill="#7b2f7c" stroke="#611764" stroke-width="1.5"/>
<circle cx="1288.35" cy="199.20" r="5.0" fill="#7b2f7c" stroke="#611764" stroke-width="1.5"/>
<circle cx="1292.76" cy="194.97" r="5.0" fill="#7b2f7c" stroke="#611764" stroke-width="1.5"/>
<circle cx="1297.04" cy="190.87" r="5.0" fill="#7b2f7c" stroke="#611764" stroke-width="1.5"/>
<circle cx="1301.18" cy="186.90" r="5.0" fill="#7b2f7c" stroke="#611764" stroke-width="1.5"/>
<circle cx="1305.20" cy="183.04" r="5.0" fill="#7b2f7c" stroke="#611764" stroke-width="1.5"/>
<circle cx="1309.10" cy="179.30" r="5.0" fill="#7b2f7c" stroke="#611764" stroke-width="1.5"/>
<circle cx="1312.90" cy="175.66" r="5.0" fill="#7b2f7c" stroke="#611764" stroke-width="1.5"/>
<circle cx="1316.58" cy="172.13" r="5.0" fill="#7b2f7c" stroke="#611764" stroke-width="1.5"/>
<circle cx="1320.17" cy="168.68" r="5.0" fill="#7b2f7c" stroke="#611764" stroke-width="1.5"/>
<circle cx="1323.67" cy="165.33" r="5.0" fill="#7b2f7c" stroke="#611764" stroke-width="1.5"/>
<circle cx="1327.08" cy="162.06" r="5.0" fill="#7b2f7c" stroke="#611764" stroke-width="1.5"/>
<circle cx="1330.40" cy="158.87" r="5.0" fill="#7b2f7c" stroke="#611764" stroke-width="1.5"/>
<circle cx="1333.64" cy="155.76" r="5.0" fill="#7b2f7c" stroke="#611764" stroke-width="1.5"/>
<circle cx="1336.81" cy="152.72" r="5.0" fill="#7b2f7c" stroke="#611764" stroke-width="1.5"/>
<circle cx="1339.90" cy="149.75" r="5.0" fill="#7b2f7c" stroke="#611764" stroke-width="1.5"/>
<circle cx="1342.92" cy="146.85" r="5.0" fill="#7b2f7c" stroke="#611764" stroke-width="1.5"/>
<circle cx="1345.88" cy="144.01" r="5.0" fill="#7b2f7c" stroke="#611764" stroke-width="1.5"/>
<circle cx="1348.77" cy="141.23" r="5.0" fill="#7b2f7c" stroke="#611764" stroke-width="1.5"/>
<circle cx="1351.60" cy="138.52" r="5.0" fill="#7b2f7c" stroke="#611764" stroke-width="1.5"/>
<circle cx="1354.37" cy="135.85" r="5.0" fill="#7b2f7c" stroke="#611764" stroke-width="1.5"/>
<circle cx="1357.09" cy="133.24" r="5.0" fill="#7b2f7c" stroke="#611764" stroke-width="1.5"/>
<circle cx="1359.75" cy="130.68" r="5.0" fill="#7b2f7c" stroke="#611764" stroke-width="1.5"/>
<circle cx="1362.36" cy="128.18" r="5.0" fill="#7b2f7c" stroke="#611764" stroke-width="1.5"/>
<circle cx="1364.92" cy="125.72" r="5.0" fill="#7b2f7c" stroke="#611764" stroke-width="1.5"/>
<circle cx="1367.44" cy="123.30" r="5.0" fill="#7b2f7c" stroke="#611764" stroke-width="1.5"/>
<circle cx="1369.90" cy="120.93" r="5.0" fill="#7b2f7c" stroke="#611764" stroke-width="1.5"/>
<circle cx="1372.33" cy="118.60" r="5.0" fill="#7b2f7c" stroke="#611764" stroke-width="1.5"/>
<circle cx="1374.71" cy="116.31" r="5.0" fill="#7b2f7c" stroke="#611764" stroke-width="1.5"/>
<circle cx="1377.04" cy="114.07" r="5.0" fill="#7b2f7c" stroke="#611764" stroke-width="1.5"/>
<circle cx="1379.34" cy="111.86" r="5.0" fill="#7b2f7c" stroke="#611764" stroke-width="1.5"/>
<circle cx="1381.60" cy="109.69" r="5.0" fill="#7b2f7c" stroke="#611764" stroke-width="1.5"/>
<circle cx="1383.82" cy="107.55" r="5.0" fill="#7b2f7c" stroke="#611764" stroke-width="1.5"/>
<circle cx="1386.01" cy="105.45" r="5.0" fill="#7b2f7c" stroke="#611764" stroke-width="1.5"/>
<circle cx="1388.16" cy="103.38" r="5.0" fill="#7b2f7c" stroke="#611764" stroke-width="1.5"/>
<circle cx="1390.27" cy="101.35" r="5.0" fill="#7b2f7c" stroke="#611764" stroke-width="1.5"/>
<circle cx="1392.36" cy="99.34" r="5.0" fill="#7b2f7c" stroke="#611764" stroke-width="1.5"/>
<circle cx="1394.41" cy="97.37" r="5.0" fill="#7b2f7c" stroke="#611764" stroke-width="1.5"/>
<circle cx="1396.43" cy="95.42" r="5.0" fill="#7b2f7c" stroke="#611764" stroke-width="1.5"/>
<circle cx="1398.42" cy="93.51" r="5.0" fill="#7b2f7c" stroke="#611764" stroke-width="1.5"/>
<circle cx="1400.38" cy="91.62" r="5.0" fill="#7b2f7c" stroke="#611764" stroke-width="1.5"/>
<circle cx="1402.31" cy="89.76" r="5.0" fill="#7b2f7c" stroke="#611764" stroke-width="1.5"/>
<circle cx="1404.22" cy="87.93" r="5.0" fill="#7b2f7c" stroke="#611764" stroke-width="1.5"/>
<circle cx="1406.10" cy="86.12" r="5.0" fill="#7b2f7c" stroke="#611764" stroke-width="1.5"/>
<circle cx="1407.95" cy="84.34" r="5.0" fill="#7b2f7c" stroke="#611764" stroke-width="1.5"/>
<circle cx="1409.78" cy="82.58" r="5.0" fill="#7b2f7c" stroke="#611764" stroke-width="1.5"/>
<circle cx="1411.58" cy="80.84" r="5.0" fill="#7b2f7c" stroke="#611764" stroke-width="1.5"/>
<circle cx="1413.36" cy="79.13" r="5.0" fill="#7b2f7c" stroke="#611764" stroke-width="1.5"/>
<circle cx="1415.12" cy="77.44" r="5.0" fill="#7b2f7c" stroke="#611764" stroke-width="1.5"/>
<circle cx="1416.85" cy="75.77" r="5.0" fill="#7b2f7c" stroke="#611764" stroke-width="1.5"/>
<circle cx="1418.56" cy="74.12" r="5.0" fill="#7b2f7c" stroke="#611764" stroke-width="1.5"/>
<circle cx="1420.25" cy="72.50" r="5.0" fill="#7b2f7c" stroke="#611764" stroke-width="1.5"/>
<circle cx="1421.92" cy="70.89" r="5.0" fill="#7b2f7c" stroke="#611764" stroke-width="1.5"/>
<circle cx="1423.57" cy="69.30" r="5.0" fill="#7b2f7c" stroke="#611764" stroke-width="1.5"/>
<circle cx="1425.20" cy="67.73" r="5.0" fill="#7b2f7c" stroke="#611764" stroke-width="1.5"/>
<circle cx="1426.81" cy="66.19" r="5.0" fill="#7b2f7c" stroke="#611764" stroke-width="1.5"/>
<circle cx="1428.40" cy="64.66" r="5.0" fill="#7b2f7c" stroke="#611764" stroke-width="1.5"/>
<circle cx="1429.97" cy="63.14" r="5.0" fill="#7b2f7c" stroke="#611764" stroke-width="1.5"/>
<circle cx="1431.52" cy="61.65" r="5.0" fill="#7b2f7c" stroke="#611764" stroke-width="1.5"/>
<circle cx="1433.06" cy="60.17" r="5.0" fill="#7b2f7c" stroke="#611764" stroke-width="1.5"/>
<circle cx="1434.57" cy="58.71" r="5.0" fill="#7b2f7c" stroke="#611764" stroke-width="1.5"/>
<circle cx="1436.07" cy="57.26" r="5.0" fill="#7b2f7c" stroke="#611764" stroke-width="1.5"/>
<circle cx="1437.56" cy="55.83" r="5.0" fill="#7b2f7c" stroke="#611764" stroke-width="1.5"/>
<circle cx="1439.03" cy="54.42" r="5.0" fill="#7b2f7c" stroke="#611764" stroke-width="1.5"/>
<rect x="1245.03" y="225.60" width="16.6" height="16.6" fill="#d8ace0" stroke="#d2a2dc" stroke-width="0.8"/>
</g>
<line x1="925.56" y1="520.30" x2="925.56" y2="514.10" stroke="#000" stroke-width="1.2"/>
<line x1="925.56" y1="30.80" x2="925.56" y2="37.00" stroke="#000" stroke-width="1.2"/>
<line x1="979.94" y1="520.30" x2="979.94" y2="514.10" stroke="#000" stroke-width="1.2"/>
<line x1="979.94" y1="30.80" x2="979.94" y2="37.00" stroke="#000" stroke-width="1.2"/>
<line x1="1018.52" y1="520.30" x2="1018.52" y2="514.10" stroke="#000" stroke-width="1.2"/>
<line x1="1018.52" y1="30.80" x2="1018.52" y2="37.00" stroke="#000" stroke-width="1.2"/>
<line x1="1048.44" y1="520.30" x2="1048.44" y2="514.10" stroke="#000" stroke-width="1.2"/>
<line x1="1048.44" y1="30.80" x2="1048.44" y2="37.00" stroke="#000" stroke-width="1.2"/>
<line x1="1072.89" y1="520.30" x2="1072.89" y2="514.10" stroke="#000" stroke-width="1.2"/>
<line x1="1072.89" y1="30.80" x2="1072.89" y2="37.00" stroke="#000" stroke-width="1.2"/>
<line x1="1093.57" y1="520.30" x2="1093.57" y2="514.10" stroke="#000" stroke-width="1.2"/>
<line x1="1093.57" y1="30.80" x2="1093.57" y2="37.00" stroke="#000" stroke-width="1.2"/>
<line x1="1111.47" y1="520.30" x2="1111.47" y2="514.10" stroke="#000" stroke-width="1.2"/>
<line x1="1111.47" y1="30.80" x2="1111.47" y2="37.00" stroke="#000" stroke-width="1.2"/>
<line x1="1127.27" y1="520.30" x2="1127.27" y2="514.10" stroke="#000" stroke-width="1.2"/>
<line x1="1127.27" y1="30.80" x2="1127.27" y2="37.00" stroke="#000" stroke-width="1.2"/>
<line x1="1141.40" y1="520.30" x2="1141.40" y2="507.80" stroke="#000" stroke-width="1.6"/>
<line x1="1141.40" y1="30.80" x2="1141.40" y2="43.30" stroke="#000" stroke-width="1.6"/>
<line x1="1234.36" y1="520.30" x2="1234.36" y2="514.10" stroke="#000" stroke-width="1.2"/>
<line x1="1234.36" y1="30.80" x2="1234.36" y2="37.00" stroke="#000" stroke-width="1.2"/>
<line x1="1288.74" y1="520.30" x2="1288.74" y2="514.10" stroke="#000" stroke-width="1.2"/>
<line x1="1288.74" y1="30.80" x2="1288.74" y2="37.00" stroke="#000" stroke-width="1.2"/>
<line x1="1327.32" y1="520.30" x2="1327.32" y2="514.10" stroke="#000" stroke-width="1.2"/>
<line x1="1327.32" y1="30.80" x2="1327.32" y2="37.00" stroke="#000" stroke-width="1.2"/>
<line x1="1357.24" y1="520.30" x2="1357.24" y2="514.10" stroke="#000" stroke-width="1.2"/>
<line x1="1357.24" y1="30.80" x2="1357.24" y2="37.00" stroke="#000" stroke-width="1.2"/>
<line x1="1381.69" y1="520.30" x2="1381.69" y2="514.10" stroke="#000" stroke-width="1.2"/>
<line x1="1381.69" y1="30.80" x2="1381.69" y2="37.00" stroke="#000" stroke-width="1.2"/>
<line x1="1402.37" y1="520.30" x2="1402.37" y2="514.10" stroke="#000" stroke-width="1.2"/>
<line x1="1402.37" y1="30.80" x2="1402.37" y2="37.00" stroke="#000" stroke-width="1.2"/>
<line x1="1420.27" y1="520.30" x2="1420.27" y2="514.10" stroke="#000" stroke-width="1.2"/>
<line x1="1420.27" y1="30.80" x2="1420.27" y2="37.00" stroke="#000" stroke-width="1.2"/>
<line x1="1436.07" y1="520.30" x2="1436.07" y2="514.10" stroke="#000" stroke-width="1.2"/>
<line x1="1436.07" y1="30.80" x2="1436.07" y2="37.00" stroke="#000" stroke-width="1.2"/>
<line x1="832.60" y1="481.30" x2="838.80" y2="481.30" stroke="#000" stroke-width="1.2"/>
<line x1="1449.90" y1="481.30" x2="1443.70" y2="481.30" stroke="#000" stroke-width="1.2"/>
<line x1="832.60" y1="454.75" x2="838.80" y2="454.75" stroke="#000" stroke-width="1.2"/>
<line x1="1449.90" y1="454.75" x2="1443.70" y2="454.75" stroke="#000" stroke-width="1.2"/>
<line x1="832.60" y1="435.91" x2="838.80" y2="435.91" stroke="#000" stroke-width="1.2"/>
<line x1="1449.90" y1="435.91" x2="1443.70" y2="435.91" stroke="#000" stroke-width="1.2"/>
<line x1="832.60" y1="421.30" x2="838.80" y2="421.30" stroke="#000" stroke-width="1.2"/>
<line x1="1449.90" y1="421.30" x2="1443.70" y2="421.30" stroke="#000" stroke-width="1.2"/>
<line x1="832.60" y1="409.35" x2="838.80" y2="409.35" stroke="#000" stroke-width="1.2"/>
<line x1="1449.90" y1="409.35" x2="1443.70" y2="409.35" stroke="#000" stroke-width="1.2"/>
<line x1="832.60" y1="399.26" x2="838.80" y2="399.26" stroke="#000" stroke-width="1.2"/>
<line x1="1449.90" y1="399.26" x2="1443.70" y2="399.26" stroke="#000" stroke-width="1.2"/>
<line x1="832.60" y1="390.51" x2="838.80" y2="390.51" stroke="#000" stroke-width="1.2"/>
<line x1="1449.90" y1="390.51" x2="1443.70" y2="390.51" stroke="#000" stroke-width="1.2"/>
<line x1="832.60" y1="382.80" x2="838.80" y2="382.80" stroke="#000" stroke-width="1.2"/>
<line x1="1449.90" y1="382.80" x2="1443.70" y2="382.80" stroke="#000" stroke-width="1.2"/>
<line x1="832.60" y1="375.90" x2="845.10" y2="375.90" stroke="#000" stroke-width="1.6"/>
<line x1="1449.90" y1="375.90" x2="1437.40" y2="375.90" stroke="#000" stroke-width="1.6"/>
<line x1="832.60" y1="330.50" x2="838.80" y2="330.50" stroke="#000" stroke-width="1.2"/>
<line x1="1449.90" y1="330.50" x2="1443.70" y2="330.50" stroke="#000" stroke-width="1.2"/>
<line x1="832.60" y1="303.95" x2="838.80" y2="303.95" stroke="#000" stroke-width="1.2"/>
<line x1="1449.90" y1="303.95" x2="1443.70" y2="303.95" stroke="#000" stroke-width="1.2"/>
<line x1="832.60" y1="285.11" x2="838.80" y2="285.11" stroke="#000" stroke-width="1.2"/>
<line x1="1449.90" y1="285.11" x2="1443.70" y2="285.11" stroke="#000" stroke-width="1.2"/>
<line x1="832.60" y1="270.50" x2="838.80" y2="270.50" stroke="#000" stroke-width="1.2"/>
<line x1="1449.90" y1="270.50" x2="1443.70" y2="270.50" stroke="#000" stroke-width="1.2"/>
<line x1="832.60" y1="258.55" x2="838.80" y2="258.55" stroke="#000" stroke-width="1.2"/>
<line x1="1449.90" y1="258.55" x2="1443.70" y2="258.55" stroke="#000" stroke-width="1.2"/>
<line x1="832.60" y1="248.46" x2="838.80" y2="248.46" stroke="#000" stroke-width="1.2"/>
<line x1="1449.90" y1="248.46" x2="1443.70" y2="248.46" stroke="#000" stroke-width="1.2"/>
<line x1="832.60" y1="239.71" x2="838.80" y2="239.71" stroke="#000" stroke-width="1.2"/>
<line x1="1449.90" y1="239.71" x2="1443.70" y2="239.71" stroke="#000" stroke-width="1.2"/>
<line x1="832.60" y1="232.00" x2="838.80" y2="232.00" stroke="#000" stroke-width="1.2"/>
<line x1="1449.90" y1="232.00" x2="1443.70" y2="232.00" stroke="#000" stroke-width="1.2"/>
<line x1="832.60" y1="225.10" x2="845.10" y2="225.10" stroke="#000" stroke-width="1.6"/>
<line x1="1449.90" y1="225.10" x2="1437.40" y2="225.10" stroke="#000" stroke-width="1.6"/>
<line x1="832.60" y1="179.70" x2="838.80" y2="179.70" stroke="#000" stroke-width="1.2"/>
<line x1="1449.90" y1="179.70" x2="1443.70" y2="179.70" stroke="#000" stroke-width="1.2"/>
<line x1="832.60" y1="153.15" x2="838.80" y2="153.15" stroke="#000" stroke-width="1.2"/>
<line x1="1449.90" y1="153.15" x2="1443.70" y2="153.15" stroke="#000" stroke-width="1.2"/>
<line x1="832.60" y1="134.31" x2="838.80" y2="134.31" stroke="#000" stroke-width="1.2"/>
<line x1="1449.90" y1="134.31" x2="1443.70" y2="134.31" stroke="#000" stroke-width="1.2"/>
<line x1="832.60" y1="119.70" x2="838.80" y2="119.70" stroke="#000" stroke-width="1.2"/>
<line x1="1449.90" y1="119.70" x2="1443.70" y2="119.70" stroke="#000" stroke-width="1.2"/>
<line x1="832.60" y1="107.75" x2="838.80" y2="107.75" stroke="#000" stroke-width="1.2"/>
<line x1="1449.90" y1="107.75" x2="1443.70" y2="107.75" stroke="#000" stroke-width="1.2"/>
<line x1="832.60" y1="97.66" x2="838.80" y2="97.66" stroke="#000" stroke-width="1.2"/>
<line x1="1449.90" y1="97.66" x2="1443.70" y2="97.66" stroke="#000" stroke-width="1.2"/>
<line x1="832.60" y1="88.91" x2="838.80" y2="88.91" stroke="#000" stroke-width="1.2"/>
<line x1="1449.90" y1="88.91" x2="1443.70" y2="88.91" stroke="#000" stroke-width="1.2"/>
<line x1="832.60" y1="81.20" x2="838.80" y2="81.20" stroke="#000" stroke-width="1.2"/>
<line x1="1449.90" y1="81.20" x2="1443.70" y2="81.20" stroke="#000" stroke-width="1.2"/>
<line x1="832.60" y1="74.30" x2="845.10" y2="74.30" stroke="#000" stroke-width="1.6"/>
<line x1="1449.90" y1="74.30" x2="1437.40" y2="74.30" stroke="#000" stroke-width="1.6"/>
<rect x="832.6" y="30.8" width="617.30" height="489.50" fill="none" stroke="#000" stroke-width="1.6"/>
<text id="rx0" x="832.1" y="545.0" font-size="20.7" text-anchor="middle" font-family='"DejaVu Serif","Liberation Serif",serif'>10<tspan font-size="14" dy="-7.6">0</tspan></text>
<text id="rx1" x="1140.9" y="545.0" font-size="20.7" text-anchor="middle" font-family='"DejaVu Serif","Liberation Serif",serif'>10<tspan font-size="14" dy="-7.6">1</tspan></text>
<text id="rx2" x="1449.7" y="545.0" font-size="20.7" text-anchor="middle" font-family='"DejaVu Serif","Liberation Serif",serif'>10<tspan font-size="14" dy="-7.6">2</tspan></text>
<text id="ry1" x="824.8" y="384.5" font-size="20.7" text-anchor="end" font-family='"DejaVu Serif","Liberation Serif",serif'>10<tspan font-size="14" dy="-7.6">1</tspan></text>
<text id="ry2" x="824.8" y="233.7" font-size="20.7" text-anchor="end" font-family='"DejaVu Serif","Liberation Serif",serif'>10<tspan font-size="14" dy="-7.6">2</tspan></text>
<text id="ry3" x="824.8" y="82.9" font-size="20.7" text-anchor="end" font-family='"DejaVu Serif","Liberation Serif",serif'>10<tspan font-size="14" dy="-7.6">3</tspan></text>
<text id="xl2" x="932.6" y="577.4" font-size="20.7" textLength="385" lengthAdjust="spacing" font-family='"DejaVu Serif","Liberation Serif",serif'>Reduced principal quantum number</text>
<text id="xl2n" x="1322.6" y="577.4" font-size="20.7" font-style="italic" font-family='"DejaVu Sans","Liberation Sans",sans-serif'>n</text>
<text id="xl2s" x="1342.6" y="576.4" font-size="10.5" text-anchor="middle" font-family='"DejaVu Sans","Liberation Sans",sans-serif'>∗</text>
<text id="yl2" transform="translate(772.9,554.6) rotate(-90)" font-size="20.7" textLength="264.4" lengthAdjust="spacing" font-family='"DejaVu Serif","Liberation Serif",serif'>Reduced matrix element,</text>
<text id="yl3" transform="translate(772.9,283.2) rotate(-90)" font-size="20.7" textLength="281.5" lengthAdjust="spacing" font-family='"DejaVu Sans","Liberation Sans",sans-serif'>⟨<tspan font-style="italic">nS</tspan><tspan font-size="14.5" dy="3.2">1/2</tspan><tspan dy="-3.2">||</tspan><tspan font-style="italic">er</tspan>||(<tspan font-style="italic">n</tspan> + 1)<tspan font-style="italic">P</tspan><tspan font-size="14.5" dy="3.2">3/2</tspan><tspan dy="-3.2">⟩ (</tspan><tspan font-style="italic">a</tspan><tspan font-size="14.5" dy="3.2">0</tspan><tspan dy="-3.2">e</tspan>)</text>
<text id="ann" x="1293.2" y="272.5" font-size="24" font-family='"DejaVu Sans","Liberation Sans",sans-serif'><tspan font-size="24">∝</tspan><tspan font-style="italic" dx="4.6">n</tspan><tspan font-size="17.5" dy="-9.8" dx="0.8">2</tspan><tspan font-size="13" dy="13.2" dx="-10.2">∗</tspan></text>
</svg>
</body></html>
